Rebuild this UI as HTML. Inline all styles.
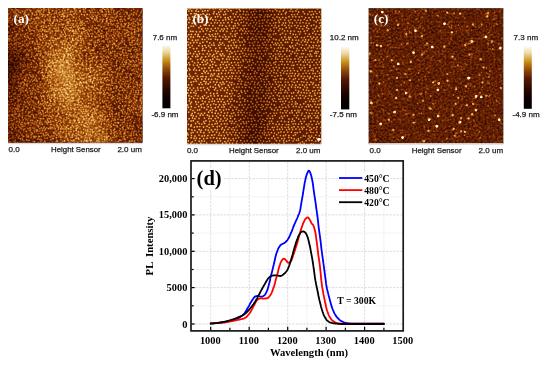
<!DOCTYPE html>
<html><head><meta charset="utf-8"><title>Figure</title>
<style>
html,body{margin:0;padding:0;background:#fff;}
svg{display:block;}
.sans{font-family:"Liberation Sans",sans-serif;font-size:8px;fill:#1a1a1a;stroke:#1a1a1a;stroke-width:0.25px;}
.serif{font-family:"Liberation Serif",serif;font-weight:bold;fill:#000;}
</style></head><body>
<svg width="550" height="365" viewBox="0 0 550 365">
<defs>
<filter id="fa" filterUnits="userSpaceOnUse" x="8" y="8" width="134.5" height="134.8" color-interpolation-filters="sRGB">
<feTurbulence type="fractalNoise" baseFrequency="0.5" numOctaves="1" seed="3"/>
<feColorMatrix type="matrix" values="1 0 0 0 0  1 0 0 0 0  1 0 0 0 0  0 0 0 0 1" result="g"/>
<feComposite in="SourceGraphic" in2="g" operator="arithmetic" k1="0" k2="1" k3="0.5" k4="-0.250" result="d"/>
<feTurbulence type="fractalNoise" baseFrequency="0.045" numOctaves="2" seed="4"/>
<feColorMatrix type="matrix" values="1 0 0 0 0  1 0 0 0 0  1 0 0 0 0  0 0 0 0 1" result="p"/>
<feComposite in="d" in2="p" operator="arithmetic" k1="0" k2="1" k3="0.15" k4="-0.075" result="d"/>
<feGaussianBlur in="d" stdDeviation="0.42"/>
<feComponentTransfer><feFuncR type="table" tableValues="0.000 0.110 0.227 0.345 0.471 0.588 0.698 0.800 0.894 0.957 1.000"/><feFuncG type="table" tableValues="0.000 0.020 0.055 0.106 0.169 0.267 0.384 0.529 0.686 0.847 1.000"/><feFuncB type="table" tableValues="0.000 0.000 0.004 0.012 0.020 0.043 0.094 0.188 0.361 0.627 1.000"/></feComponentTransfer></filter>
<filter id="fb" filterUnits="userSpaceOnUse" x="187.1" y="8.7" width="134" height="135.1" color-interpolation-filters="sRGB">
<feTurbulence type="fractalNoise" baseFrequency="0.6" numOctaves="1" seed="7"/>
<feColorMatrix type="matrix" values="1 0 0 0 0  1 0 0 0 0  1 0 0 0 0  0 0 0 0 1" result="g"/>
<feComposite in="SourceGraphic" in2="g" operator="arithmetic" k1="0" k2="1" k3="0.16" k4="-0.080" result="d"/>
<feTurbulence type="fractalNoise" baseFrequency="0.03" numOctaves="2" seed="9"/>
<feColorMatrix type="matrix" values="1 0 0 0 0  1 0 0 0 0  1 0 0 0 0  0 0 0 0 1" result="p"/>
<feComposite in="d" in2="p" operator="arithmetic" k1="0" k2="1" k3="0.08" k4="-0.040" result="d"/>
<feGaussianBlur in="d" stdDeviation="0.42"/>
<feComponentTransfer><feFuncR type="table" tableValues="0.000 0.110 0.227 0.345 0.471 0.588 0.698 0.800 0.894 0.957 1.000"/><feFuncG type="table" tableValues="0.000 0.020 0.055 0.106 0.169 0.267 0.384 0.529 0.686 0.847 1.000"/><feFuncB type="table" tableValues="0.000 0.000 0.004 0.012 0.020 0.043 0.094 0.188 0.361 0.627 1.000"/></feComponentTransfer></filter>
<filter id="fc" filterUnits="userSpaceOnUse" x="368.7" y="8.3" width="134.5" height="135" color-interpolation-filters="sRGB">
<feTurbulence type="fractalNoise" baseFrequency="0.47" numOctaves="2" seed="11"/>
<feColorMatrix type="matrix" values="1 0 0 0 0  1 0 0 0 0  1 0 0 0 0  0 0 0 0 1" result="g"/>
<feComposite in="SourceGraphic" in2="g" operator="arithmetic" k1="0" k2="1" k3="0.5" k4="-0.250" result="d"/>
<feTurbulence type="fractalNoise" baseFrequency="0.08" numOctaves="2" seed="9"/>
<feColorMatrix type="matrix" values="1 0 0 0 0  1 0 0 0 0  1 0 0 0 0  0 0 0 0 1" result="p"/>
<feComposite in="d" in2="p" operator="arithmetic" k1="0" k2="1" k3="0.08" k4="-0.040" result="d"/>
<feGaussianBlur in="d" stdDeviation="0.4"/>
<feComponentTransfer><feFuncR type="table" tableValues="0.000 0.110 0.227 0.345 0.471 0.588 0.698 0.800 0.894 0.957 1.000"/><feFuncG type="table" tableValues="0.000 0.020 0.055 0.106 0.169 0.267 0.384 0.529 0.686 0.847 1.000"/><feFuncB type="table" tableValues="0.000 0.000 0.004 0.012 0.020 0.043 0.094 0.188 0.361 0.627 1.000"/></feComponentTransfer></filter>
<linearGradient id="cb" x1="0" y1="1" x2="0" y2="0">
<stop offset="0" stop-color="#000"/><stop offset="0.14" stop-color="#0a0000"/><stop offset="0.29" stop-color="#230800"/><stop offset="0.48" stop-color="#551905"/><stop offset="0.63" stop-color="#96500a"/><stop offset="0.76" stop-color="#cd961e"/><stop offset="0.88" stop-color="#ebd7a0"/><stop offset="1" stop-color="#fff"/>
</linearGradient>
<linearGradient id="ga" x1="0" y1="0" x2="1" y2="0">
<stop offset="0" stop-color="#000" stop-opacity="0.22"/><stop offset="0.15" stop-color="#000" stop-opacity="0.1"/><stop offset="0.3" stop-color="#000" stop-opacity="0"/><stop offset="0.65" stop-color="#000" stop-opacity="0"/><stop offset="0.8" stop-color="#000" stop-opacity="0.05"/><stop offset="1" stop-color="#000" stop-opacity="0.07"/>
</linearGradient>
<radialGradient id="ga2" cx="0.5" cy="0.5" r="0.5"><stop offset="0" stop-color="#fff" stop-opacity="0.27"/><stop offset="0.5" stop-color="#fff" stop-opacity="0.15"/><stop offset="1" stop-color="#fff" stop-opacity="0"/></radialGradient>
<radialGradient id="ga3" cx="0.5" cy="0.5" r="0.5"><stop offset="0" stop-color="#000" stop-opacity="0.4"/><stop offset="0.5" stop-color="#000" stop-opacity="0.2"/><stop offset="1" stop-color="#000" stop-opacity="0"/></radialGradient>
<linearGradient id="gb0" x1="0" y1="0" x2="1" y2="0.05">
<stop offset="0" stop-color="#5f5f5f"/><stop offset="0.33" stop-color="#5c5c5c"/><stop offset="0.43" stop-color="#535353"/><stop offset="0.5" stop-color="#4b4b4b"/><stop offset="0.58" stop-color="#494949"/><stop offset="0.68" stop-color="#535353"/><stop offset="1" stop-color="#595959"/>
</linearGradient>
<linearGradient id="gb" x1="0" y1="0" x2="1" y2="0.05">
<stop offset="0" stop-color="#000" stop-opacity="0"/><stop offset="0.33" stop-color="#000" stop-opacity="0.03"/><stop offset="0.43" stop-color="#000" stop-opacity="0.13"/><stop offset="0.5" stop-color="#000" stop-opacity="0.24"/><stop offset="0.58" stop-color="#000" stop-opacity="0.25"/><stop offset="0.68" stop-color="#000" stop-opacity="0.1"/><stop offset="1" stop-color="#000" stop-opacity="0.06"/>
</linearGradient>
<clipPath id="ca"><rect x="8" y="8" width="134.5" height="134.8"/></clipPath>
<clipPath id="cc"><rect x="368.7" y="8.3" width="134.5" height="135"/></clipPath>
</defs>
<rect width="550" height="365" fill="#fff"/>
<!-- AFM images -->
<g filter="url(#fa)"><g clip-path="url(#ca)"><rect x="8" y="8" width="134.5" height="134.8" fill="#5e5e5e"/>
<path d="M8.5 7.6h0M10.4 8.3h0M12.3 7.2h0M15.4 8.5h0M20.9 7.5h0M23.7 7.2h0M28.8 7.8h0M30.4 7.2h0M32.9 8.0h0M35.0 7.5h0M37.6 7.1h0M40.6 8.3h0M43.9 8.6h0M48.4 8.4h0M50.4 8.6h0M52.6 8.2h0M56.1 8.0h0M57.2 7.5h0M60.3 7.4h0M63.4 8.3h0M65.4 8.0h0M68.0 7.8h0M69.7 7.2h0M73.9 8.2h0M74.9 8.0h0M78.5 8.1h0M80.0 8.0h0M83.1 7.9h0M85.6 8.8h0M91.1 8.7h0M93.6 8.0h0M95.4 7.2h0M98.1 7.5h0M100.5 7.7h0M103.1 8.2h0M105.4 7.2h0M107.4 8.2h0M111.0 8.5h0M112.6 8.6h0M114.7 7.1h0M120.0 7.3h0M122.7 7.2h0M125.5 7.4h0M128.4 7.9h0M130.5 7.1h0M132.9 7.4h0M138.0 7.5h0M141.1 7.1h0M8.6 10.5h0M11.8 9.7h0M14.8 10.2h0M17.0 10.0h0M18.9 10.4h0M25.1 10.8h0M27.4 9.8h0M29.7 10.0h0M30.9 10.8h0M37.6 10.3h0M39.9 11.0h0M41.8 9.9h0M43.7 10.5h0M46.2 9.5h0M48.9 10.2h0M52.4 10.9h0M56.4 11.0h0M59.0 9.6h0M62.4 10.9h0M64.9 10.5h0M67.6 9.7h0M68.5 9.6h0M71.2 10.6h0M74.9 9.9h0M76.4 10.8h0M80.1 10.9h0M83.5 9.3h0M89.8 10.8h0M92.0 10.7h0M94.4 9.7h0M100.0 10.3h0M101.7 9.8h0M104.8 9.3h0M106.0 9.5h0M108.4 9.7h0M111.6 9.5h0M113.8 10.6h0M119.0 11.0h0M121.4 9.7h0M123.5 10.4h0M131.4 10.3h0M133.9 9.4h0M137.6 11.0h0M142.0 11.0h0M144.6 10.5h0M5.6 12.0h0M7.2 11.9h0M10.4 12.6h0M13.8 12.1h0M15.2 12.0h0M18.7 12.0h0M20.6 12.5h0M22.5 11.5h0M24.7 12.4h0M32.6 12.9h0M36.2 11.7h0M38.5 11.6h0M39.9 12.8h0M43.6 12.0h0M48.8 12.0h0M49.9 13.1h0M56.2 12.9h0M58.6 12.8h0M59.9 12.2h0M63.4 12.6h0M64.7 13.2h0M68.1 12.4h0M70.4 12.1h0M72.6 11.5h0M75.4 12.5h0M79.8 11.7h0M83.6 12.1h0M85.7 11.9h0M90.5 12.6h0M93.3 12.7h0M95.5 12.3h0M97.8 12.4h0M101.3 11.9h0M102.2 11.6h0M106.2 11.7h0M108.7 12.0h0M111.1 12.1h0M113.4 12.5h0M116.2 13.2h0M117.4 11.9h0M120.6 12.8h0M125.9 12.1h0M127.4 12.7h0M133.6 12.6h0M136.2 13.2h0M141.1 12.6h0M142.9 13.1h0M6.5 15.0h0M8.6 14.2h0M15.1 13.8h0M16.6 13.8h0M18.8 14.9h0M24.1 13.6h0M26.9 15.1h0M28.9 14.6h0M31.9 14.0h0M34.8 15.1h0M36.8 14.5h0M39.7 14.6h0M41.4 13.8h0M43.6 14.9h0M47.6 15.0h0M48.6 14.5h0M51.4 14.5h0M54.3 13.6h0M56.7 14.1h0M59.8 14.8h0M62.0 14.3h0M63.4 14.1h0M67.4 15.1h0M70.1 14.4h0M71.6 14.9h0M73.9 13.9h0M76.8 14.2h0M81.6 14.3h0M84.4 14.9h0M87.2 14.5h0M89.5 14.8h0M91.6 14.7h0M95.0 15.0h0M97.2 15.1h0M99.0 14.1h0M102.4 14.6h0M104.8 14.5h0M105.9 14.5h0M109.1 14.2h0M110.9 14.5h0M114.6 14.3h0M116.9 14.0h0M119.9 14.1h0M124.3 14.3h0M127.2 13.9h0M129.6 15.1h0M131.9 14.0h0M133.7 15.0h0M136.4 14.0h0M139.6 15.1h0M144.5 14.2h0M6.0 17.2h0M8.2 16.1h0M10.4 17.4h0M13.2 16.2h0M14.8 16.0h0M17.7 17.1h0M20.9 17.1h0M22.3 16.5h0M24.8 16.1h0M31.2 16.1h0M36.1 17.5h0M37.7 17.3h0M42.3 16.5h0M45.3 16.1h0M48.6 16.6h0M50.0 17.0h0M53.2 17.4h0M54.7 17.2h0M57.7 16.4h0M61.3 16.5h0M63.5 16.0h0M64.6 16.0h0M67.2 16.4h0M73.6 17.4h0M79.7 16.3h0M90.9 17.0h0M93.3 16.5h0M96.3 16.9h0M97.2 17.4h0M100.2 16.8h0M103.0 15.9h0M105.3 16.1h0M107.9 17.0h0M110.9 17.1h0M112.6 17.5h0M116.3 17.3h0M117.2 15.9h0M120.4 16.4h0M122.2 16.7h0M124.8 16.5h0M128.7 15.8h0M129.8 17.2h0M138.4 16.3h0M143.6 17.3h0M6.6 18.4h0M8.9 18.5h0M12.6 19.0h0M16.7 19.7h0M19.9 19.2h0M22.5 19.4h0M23.6 18.6h0M26.0 18.5h0M28.4 19.4h0M31.4 18.5h0M33.9 19.3h0M36.8 18.2h0M38.9 18.5h0M44.2 19.6h0M47.6 19.4h0M50.0 19.4h0M54.4 19.7h0M57.1 19.3h0M60.0 19.1h0M61.7 19.7h0M63.7 18.2h0M66.9 19.6h0M69.1 19.2h0M76.3 18.1h0M79.5 18.9h0M87.0 18.2h0M88.4 18.6h0M92.1 18.4h0M94.4 19.5h0M96.6 19.1h0M100.1 19.4h0M102.3 19.7h0M103.7 19.3h0M106.8 18.8h0M109.9 19.4h0M110.9 19.5h0M113.7 18.5h0M115.9 18.1h0M119.9 19.3h0M121.8 19.0h0M124.3 18.9h0M127.6 18.7h0M128.9 18.5h0M131.9 18.9h0M133.6 19.1h0M137.2 18.9h0M139.1 19.6h0M142.1 19.5h0M144.9 18.6h0M6.0 20.8h0M8.0 20.7h0M9.8 20.7h0M12.1 20.4h0M16.1 21.2h0M18.9 20.6h0M20.9 21.3h0M23.5 21.0h0M25.5 21.8h0M27.3 20.3h0M30.0 20.1h0M33.0 21.8h0M35.9 21.6h0M41.4 21.1h0M42.7 21.8h0M44.8 21.1h0M48.3 20.3h0M50.1 21.0h0M53.6 21.5h0M54.8 20.8h0M57.6 21.0h0M59.8 21.6h0M66.2 20.5h0M67.8 21.7h0M70.1 21.0h0M73.1 20.5h0M75.2 21.0h0M80.8 21.8h0M82.6 21.1h0M86.0 21.6h0M87.6 21.4h0M89.8 20.4h0M93.2 21.8h0M95.7 20.4h0M97.6 21.3h0M100.0 20.8h0M102.7 21.2h0M106.2 21.3h0M107.2 20.7h0M110.8 21.6h0M112.7 21.0h0M114.8 20.3h0M117.3 21.1h0M120.6 21.3h0M122.5 21.1h0M125.4 20.1h0M130.7 20.2h0M133.3 21.9h0M135.7 21.0h0M139.9 20.5h0M143.3 20.2h0M8.5 22.8h0M10.9 22.3h0M17.5 23.4h0M19.6 22.7h0M21.4 24.0h0M24.8 23.4h0M26.9 23.8h0M29.6 23.4h0M31.9 23.2h0M35.0 23.4h0M35.9 23.2h0M38.7 23.0h0M41.3 22.7h0M44.2 23.0h0M49.5 23.2h0M52.4 23.6h0M53.4 22.8h0M56.1 23.9h0M61.2 23.8h0M64.0 23.9h0M67.4 22.9h0M68.6 23.3h0M72.1 23.7h0M73.4 24.0h0M77.0 22.9h0M79.9 23.1h0M81.9 23.0h0M84.1 23.3h0M88.4 23.5h0M101.5 22.7h0M105.0 23.4h0M107.3 22.7h0M108.8 23.3h0M111.1 23.7h0M113.9 23.8h0M117.0 24.0h0M118.5 23.0h0M121.4 23.7h0M124.6 23.4h0M126.0 23.5h0M128.7 23.4h0M131.5 23.5h0M133.4 23.9h0M137.4 22.6h0M138.5 22.9h0M142.0 23.7h0M144.2 23.1h0M5.9 24.8h0M8.1 25.4h0M11.1 24.7h0M12.3 24.5h0M18.5 25.6h0M20.1 24.7h0M23.6 26.1h0M28.2 25.7h0M30.6 25.1h0M36.4 26.1h0M37.7 24.9h0M41.3 26.1h0M43.2 25.3h0M46.0 26.1h0M48.4 25.7h0M50.6 24.9h0M52.3 25.6h0M55.6 25.6h0M58.9 24.9h0M62.7 24.9h0M65.7 26.2h0M67.7 25.4h0M70.5 25.2h0M72.8 25.1h0M76.1 25.1h0M78.1 25.9h0M80.7 25.7h0M82.4 24.9h0M85.1 25.3h0M92.5 25.9h0M95.0 25.2h0M98.1 25.4h0M100.0 25.5h0M104.7 25.8h0M108.3 25.5h0M112.2 24.9h0M115.1 25.6h0M117.7 25.9h0M120.9 25.0h0M122.3 25.9h0M125.4 24.9h0M128.2 25.5h0M130.1 24.5h0M132.7 25.9h0M135.7 24.6h0M138.2 24.9h0M140.5 24.6h0M143.4 25.9h0M7.5 26.8h0M8.8 26.6h0M14.7 27.3h0M17.0 27.1h0M19.6 28.2h0M22.4 28.3h0M24.1 27.1h0M28.6 27.6h0M30.9 27.0h0M34.3 28.2h0M36.0 27.8h0M41.6 28.3h0M43.7 27.5h0M46.2 27.2h0M50.1 28.0h0M54.2 28.1h0M56.1 28.2h0M58.4 27.5h0M62.4 27.3h0M64.8 28.1h0M66.6 28.2h0M70.0 27.6h0M71.7 27.4h0M73.9 26.9h0M77.4 27.1h0M79.8 28.0h0M82.6 28.0h0M83.6 27.6h0M89.0 27.2h0M92.0 27.6h0M94.5 28.1h0M96.8 28.0h0M101.4 27.0h0M103.6 26.8h0M106.8 28.1h0M109.9 27.7h0M117.3 27.1h0M119.3 27.6h0M121.0 26.9h0M123.8 26.7h0M127.2 27.1h0M128.8 27.4h0M131.4 28.2h0M134.8 26.7h0M137.5 28.1h0M141.5 27.9h0M5.9 30.3h0M10.8 30.3h0M13.9 29.1h0M19.8 29.2h0M22.2 30.5h0M26.3 30.1h0M28.8 28.8h0M29.7 29.2h0M32.1 30.1h0M37.2 29.7h0M40.1 29.6h0M42.8 29.9h0M44.9 30.0h0M48.8 29.5h0M49.6 28.8h0M55.8 30.5h0M58.4 29.4h0M63.4 30.2h0M66.1 29.8h0M68.0 29.6h0M70.6 30.3h0M72.9 30.2h0M75.5 29.8h0M78.2 29.2h0M80.7 28.8h0M83.7 29.2h0M85.9 30.4h0M88.2 29.4h0M90.8 29.4h0M92.1 30.1h0M95.2 28.8h0M98.2 30.2h0M100.0 28.9h0M105.8 29.0h0M108.8 29.8h0M111.3 30.0h0M113.5 29.7h0M115.3 29.3h0M118.0 29.6h0M119.7 29.1h0M123.2 29.9h0M125.0 29.5h0M127.4 30.5h0M131.2 28.8h0M132.7 29.6h0M134.7 29.4h0M138.7 29.7h0M140.7 29.8h0M143.1 29.2h0M8.5 31.8h0M12.4 32.3h0M15.1 31.4h0M16.3 31.1h0M19.3 31.1h0M22.6 31.0h0M29.9 31.0h0M33.9 30.9h0M38.7 31.4h0M41.3 31.3h0M44.9 31.3h0M46.7 31.5h0M48.4 31.2h0M52.2 31.3h0M55.0 31.1h0M57.4 31.2h0M58.6 31.0h0M61.5 32.0h0M64.8 32.1h0M69.7 31.1h0M72.3 31.3h0M73.8 31.7h0M75.9 31.4h0M79.0 31.7h0M82.0 32.0h0M84.0 31.7h0M87.3 32.5h0M89.4 31.1h0M94.9 31.9h0M97.5 32.3h0M99.2 31.5h0M101.7 30.9h0M106.9 32.5h0M108.6 31.7h0M111.1 31.1h0M113.8 32.1h0M117.4 31.5h0M119.3 32.5h0M122.4 32.1h0M126.8 32.7h0M128.7 31.6h0M131.8 32.5h0M134.8 32.0h0M136.5 31.1h0M138.4 31.4h0M142.6 31.3h0M144.9 31.5h0M5.2 33.2h0M8.4 33.1h0M16.2 33.3h0M17.7 34.0h0M20.6 34.7h0M22.9 34.6h0M25.5 34.0h0M27.9 33.2h0M31.0 33.3h0M32.4 33.7h0M38.2 34.3h0M39.8 34.2h0M42.7 34.1h0M45.8 34.9h0M50.5 33.1h0M55.6 33.3h0M60.9 34.1h0M63.2 34.7h0M65.5 33.8h0M73.6 33.1h0M75.2 33.6h0M77.6 33.6h0M81.3 33.6h0M82.2 33.9h0M85.0 33.7h0M88.1 34.1h0M90.8 33.7h0M92.8 34.0h0M96.2 33.8h0M98.6 34.8h0M100.9 33.5h0M102.2 34.0h0M105.9 34.7h0M108.1 34.0h0M113.1 34.4h0M115.7 33.2h0M118.6 33.9h0M120.8 33.6h0M125.2 33.4h0M128.6 34.8h0M131.3 33.4h0M132.1 33.5h0M134.7 34.3h0M138.9 34.9h0M143.9 33.7h0M7.5 36.4h0M9.3 36.0h0M11.8 35.6h0M15.1 36.3h0M16.4 35.5h0M21.1 35.9h0M24.7 36.4h0M27.3 36.0h0M28.4 36.5h0M34.1 35.6h0M37.4 35.3h0M40.1 36.1h0M42.5 36.6h0M44.4 35.6h0M46.9 36.7h0M51.3 36.8h0M54.9 35.4h0M60.0 36.1h0M61.1 36.2h0M64.9 36.6h0M66.1 35.5h0M69.4 35.6h0M71.2 36.1h0M73.5 35.4h0M79.0 35.8h0M80.9 36.1h0M84.7 35.8h0M86.4 36.6h0M89.2 36.0h0M91.8 36.2h0M94.8 37.0h0M97.0 36.5h0M99.4 36.1h0M101.6 36.2h0M103.8 35.6h0M106.3 36.7h0M109.7 35.8h0M111.5 35.9h0M114.5 36.0h0M117.4 35.8h0M119.1 36.5h0M121.2 35.9h0M125.1 36.3h0M127.4 35.6h0M131.5 36.5h0M134.1 36.7h0M138.6 36.2h0M142.6 36.6h0M5.6 38.6h0M8.9 39.1h0M9.9 39.2h0M13.8 37.6h0M14.8 37.7h0M18.5 38.7h0M19.8 38.1h0M22.5 38.3h0M26.3 37.6h0M28.1 37.7h0M29.8 39.0h0M32.2 38.3h0M36.2 38.7h0M38.7 37.4h0M39.7 38.9h0M43.5 38.9h0M44.8 38.1h0M51.4 38.4h0M53.3 37.7h0M55.2 38.8h0M57.8 38.4h0M59.7 37.8h0M65.4 38.5h0M67.2 38.9h0M69.6 38.2h0M72.8 39.0h0M75.8 39.0h0M78.2 37.5h0M80.8 38.4h0M82.7 38.9h0M85.8 38.2h0M95.5 37.5h0M101.4 38.2h0M103.2 37.6h0M105.8 39.1h0M108.1 38.1h0M110.5 38.3h0M112.9 37.5h0M116.2 38.1h0M122.3 38.6h0M128.7 37.8h0M130.7 38.4h0M132.8 37.5h0M135.1 38.5h0M137.6 39.2h0M141.3 38.3h0M142.6 37.7h0M6.7 40.6h0M9.3 40.8h0M12.0 40.3h0M14.4 40.4h0M16.4 39.7h0M22.5 41.1h0M24.9 41.0h0M26.4 39.8h0M30.1 41.1h0M32.2 41.2h0M33.6 41.3h0M37.2 40.7h0M40.9 40.1h0M44.6 40.6h0M49.4 40.7h0M52.5 40.4h0M54.3 40.6h0M56.2 39.7h0M63.9 41.0h0M66.1 41.1h0M72.1 40.6h0M73.6 40.6h0M77.4 40.1h0M78.4 40.7h0M81.7 40.4h0M83.7 41.0h0M89.8 40.3h0M91.5 40.2h0M95.1 41.0h0M97.5 40.2h0M98.9 40.0h0M102.1 41.3h0M103.5 40.8h0M107.3 39.6h0M109.7 40.8h0M112.5 41.0h0M114.0 39.6h0M116.7 41.1h0M122.0 41.2h0M124.1 40.5h0M129.4 39.9h0M132.0 40.6h0M134.1 40.6h0M137.2 40.7h0M138.6 39.8h0M142.0 40.7h0M143.8 40.6h0M6.1 41.9h0M7.4 43.0h0M11.3 43.4h0M16.2 43.1h0M18.5 42.3h0M20.3 43.5h0M24.8 43.1h0M28.0 43.3h0M29.7 43.2h0M32.3 43.0h0M34.8 42.8h0M37.2 41.9h0M42.7 42.7h0M46.1 43.3h0M48.2 43.3h0M50.7 43.5h0M53.4 42.3h0M56.1 42.3h0M57.1 42.6h0M61.0 42.0h0M62.4 42.2h0M64.9 42.7h0M68.6 42.9h0M71.2 42.1h0M76.0 43.0h0M77.5 42.9h0M81.0 42.5h0M88.0 43.0h0M89.6 43.5h0M93.1 42.1h0M95.0 42.8h0M97.6 42.4h0M99.7 41.8h0M103.9 41.8h0M107.6 42.2h0M109.9 42.1h0M113.2 43.0h0M114.6 43.5h0M120.5 43.2h0M122.1 42.0h0M129.8 42.7h0M132.1 42.2h0M135.6 43.3h0M138.1 42.2h0M140.5 42.4h0M142.5 41.8h0M8.7 44.6h0M12.2 45.0h0M14.9 44.0h0M16.1 44.6h0M18.8 44.0h0M22.1 45.6h0M23.4 44.9h0M26.8 44.9h0M28.5 44.8h0M34.9 43.9h0M37.4 44.0h0M39.2 44.2h0M41.9 45.4h0M45.1 45.1h0M46.0 44.5h0M49.3 44.6h0M51.9 45.4h0M55.0 44.5h0M56.9 44.6h0M58.5 45.1h0M62.3 44.0h0M64.4 44.0h0M67.5 45.0h0M70.0 44.7h0M72.4 45.1h0M74.4 45.3h0M76.1 44.2h0M79.6 45.2h0M81.5 45.6h0M83.9 43.9h0M89.5 44.3h0M91.2 44.6h0M94.7 44.7h0M96.7 45.1h0M99.4 44.9h0M100.9 43.9h0M106.8 45.0h0M108.4 45.5h0M112.6 44.5h0M114.6 43.9h0M116.6 45.7h0M119.1 44.2h0M124.5 44.2h0M126.2 45.6h0M130.1 44.7h0M131.9 45.2h0M134.3 44.4h0M137.5 44.0h0M139.7 44.2h0M142.4 44.8h0M144.3 44.2h0M5.9 46.6h0M8.4 47.6h0M10.1 46.7h0M13.7 47.3h0M14.6 47.3h0M18.7 46.4h0M21.0 46.5h0M24.8 46.3h0M27.4 46.2h0M30.8 47.5h0M38.4 46.4h0M39.8 47.7h0M43.8 46.8h0M47.9 46.7h0M50.9 47.4h0M52.6 46.3h0M58.8 46.2h0M61.4 47.1h0M62.4 47.4h0M64.8 46.4h0M67.5 47.2h0M70.9 47.5h0M73.6 46.3h0M75.5 47.3h0M82.4 47.7h0M85.7 46.8h0M88.8 47.7h0M93.5 47.7h0M95.4 46.4h0M103.4 46.8h0M105.1 47.8h0M107.6 46.8h0M112.5 47.4h0M115.8 46.1h0M118.2 46.6h0M121.2 47.7h0M122.9 47.1h0M125.2 47.7h0M128.3 47.4h0M132.9 47.3h0M135.4 47.4h0M138.9 46.1h0M141.0 47.1h0M142.7 46.8h0M9.8 49.2h0M12.3 48.5h0M14.7 49.3h0M16.3 49.5h0M19.1 49.9h0M21.1 48.5h0M25.1 49.9h0M27.0 49.1h0M29.4 50.0h0M31.6 49.5h0M34.7 48.5h0M36.3 48.7h0M38.4 48.5h0M42.3 48.4h0M44.2 49.6h0M51.0 48.3h0M53.4 49.0h0M56.1 49.8h0M60.1 49.3h0M61.1 49.3h0M64.9 48.5h0M66.6 49.2h0M69.6 48.8h0M72.5 49.7h0M78.5 48.4h0M80.9 48.7h0M85.0 49.9h0M86.7 48.4h0M88.8 49.4h0M91.8 49.8h0M94.0 49.5h0M99.6 48.7h0M102.2 48.6h0M103.6 48.6h0M106.3 49.7h0M108.6 49.4h0M112.0 48.4h0M116.8 48.6h0M119.9 48.7h0M122.4 50.0h0M123.6 49.6h0M128.8 48.6h0M131.1 49.4h0M134.5 49.7h0M136.3 49.7h0M139.7 49.3h0M145.0 49.9h0M4.6 50.4h0M8.5 51.7h0M11.2 50.5h0M13.3 51.1h0M14.9 52.1h0M17.7 51.0h0M20.2 51.5h0M23.8 51.8h0M25.2 50.5h0M28.6 50.8h0M30.2 50.9h0M36.3 50.7h0M38.5 51.4h0M40.4 51.5h0M45.7 51.9h0M48.8 51.3h0M51.0 52.1h0M53.3 50.8h0M55.6 50.5h0M58.5 50.9h0M60.1 50.6h0M62.7 50.9h0M66.3 51.4h0M67.6 50.9h0M70.2 50.7h0M73.3 52.1h0M75.5 50.7h0M77.2 51.4h0M80.2 51.3h0M82.8 50.6h0M85.9 50.6h0M90.2 51.2h0M93.0 50.5h0M97.4 51.9h0M101.0 51.5h0M103.5 50.9h0M104.7 51.1h0M108.3 51.6h0M110.4 52.0h0M112.7 51.5h0M115.0 51.3h0M120.3 51.6h0M122.5 52.1h0M125.5 50.5h0M128.3 50.8h0M130.1 50.9h0M136.0 51.6h0M137.6 50.5h0M140.1 50.8h0M5.9 53.5h0M11.0 52.9h0M13.5 54.0h0M17.0 53.5h0M18.7 53.3h0M27.0 54.3h0M28.4 54.2h0M31.6 52.9h0M36.8 54.1h0M38.7 53.6h0M41.3 53.1h0M45.1 52.8h0M46.5 53.9h0M48.7 54.1h0M50.9 53.0h0M53.9 52.9h0M56.9 53.3h0M59.5 53.2h0M62.4 53.9h0M63.9 54.1h0M67.4 53.7h0M68.9 54.1h0M71.1 53.6h0M79.7 52.9h0M80.9 53.2h0M87.0 54.0h0M90.0 53.3h0M91.9 53.4h0M94.1 53.3h0M96.0 53.9h0M100.0 53.6h0M101.1 54.1h0M106.1 53.0h0M109.0 53.8h0M111.0 53.2h0M114.8 54.1h0M117.5 53.6h0M119.3 53.8h0M121.1 54.3h0M123.4 53.1h0M125.9 53.1h0M128.6 53.9h0M131.3 54.0h0M137.2 53.6h0M139.1 54.1h0M141.0 53.5h0M144.6 53.0h0M5.7 56.5h0M8.8 56.5h0M10.6 55.4h0M14.9 55.8h0M18.1 55.8h0M21.3 55.7h0M25.9 55.4h0M28.1 55.4h0M31.4 54.8h0M33.9 56.3h0M35.8 55.6h0M37.4 55.1h0M40.1 55.1h0M42.6 56.2h0M47.9 55.1h0M50.5 54.8h0M53.4 55.3h0M55.0 54.8h0M57.7 55.2h0M63.4 56.4h0M64.6 55.6h0M68.1 55.5h0M70.7 55.5h0M73.0 54.7h0M76.3 55.9h0M78.6 54.8h0M79.8 56.2h0M82.4 55.2h0M85.8 55.7h0M91.1 55.4h0M96.3 56.4h0M97.5 56.5h0M100.9 56.4h0M103.5 55.8h0M105.0 56.4h0M107.3 56.1h0M111.0 55.9h0M114.9 55.7h0M117.4 55.7h0M120.9 55.0h0M123.8 55.4h0M124.9 55.5h0M127.3 55.4h0M132.7 56.2h0M134.8 56.2h0M137.7 55.0h0M141.3 55.1h0M142.7 56.5h0M11.7 58.6h0M16.8 58.5h0M19.6 57.3h0M20.9 58.7h0M23.8 58.5h0M26.5 57.4h0M28.8 57.8h0M31.3 56.9h0M34.8 58.2h0M36.1 58.6h0M39.0 58.6h0M42.4 57.9h0M43.6 57.1h0M50.1 57.2h0M54.9 57.1h0M58.8 56.9h0M63.5 57.7h0M67.1 57.5h0M71.5 57.7h0M74.2 58.6h0M79.9 57.8h0M81.0 58.7h0M86.3 58.2h0M89.7 58.6h0M92.4 58.0h0M93.7 57.1h0M96.4 57.5h0M101.9 57.3h0M104.3 58.3h0M106.6 57.5h0M108.7 57.1h0M112.1 58.6h0M115.1 57.7h0M118.8 57.6h0M121.4 57.8h0M123.5 58.5h0M127.2 57.5h0M131.3 57.4h0M134.6 57.2h0M137.0 57.2h0M138.5 58.1h0M141.9 58.6h0M144.4 57.9h0M5.4 59.2h0M8.8 60.0h0M11.2 60.1h0M15.5 59.8h0M21.1 60.0h0M23.4 59.4h0M25.0 60.0h0M28.1 59.4h0M30.0 60.0h0M33.3 60.6h0M40.0 59.7h0M42.3 60.6h0M45.7 59.1h0M49.7 60.2h0M52.6 60.8h0M55.2 59.8h0M57.3 60.8h0M60.9 59.8h0M63.2 59.5h0M66.3 60.8h0M67.6 60.6h0M70.6 60.3h0M72.9 59.2h0M78.4 60.2h0M80.1 60.7h0M83.3 60.7h0M86.1 60.4h0M88.8 59.1h0M90.5 60.7h0M92.3 60.4h0M94.8 60.3h0M97.9 60.8h0M101.4 60.3h0M102.8 59.3h0M107.4 60.1h0M110.5 60.7h0M113.8 59.6h0M117.9 60.3h0M120.4 59.7h0M123.9 59.4h0M126.2 60.5h0M128.2 59.6h0M129.7 60.8h0M133.3 60.7h0M136.1 60.6h0M138.7 59.5h0M140.9 60.5h0M142.2 59.8h0M6.0 61.5h0M9.0 62.7h0M11.9 61.7h0M13.6 62.6h0M17.1 62.5h0M19.5 62.5h0M24.3 62.7h0M31.4 63.0h0M34.2 61.8h0M36.2 63.0h0M40.0 63.0h0M42.3 62.8h0M46.5 61.8h0M48.7 61.3h0M50.9 62.4h0M54.1 62.7h0M55.9 62.3h0M59.1 61.4h0M60.9 61.9h0M63.7 62.3h0M66.7 62.2h0M68.4 62.1h0M72.0 61.4h0M74.3 62.6h0M78.6 62.9h0M82.5 62.9h0M86.9 61.8h0M89.9 61.6h0M92.4 61.8h0M96.4 62.3h0M102.3 62.0h0M104.7 62.2h0M106.2 62.4h0M108.4 61.8h0M111.1 62.8h0M116.7 61.5h0M119.3 61.9h0M122.2 62.2h0M124.6 62.0h0M126.1 62.4h0M130.1 61.7h0M131.6 61.5h0M134.5 62.4h0M136.3 61.5h0M139.6 62.8h0M141.4 62.7h0M144.7 61.3h0M5.3 64.6h0M20.6 63.5h0M22.9 64.6h0M25.2 64.9h0M27.8 64.0h0M31.1 64.3h0M37.4 64.8h0M40.0 63.5h0M42.4 65.2h0M45.2 64.8h0M48.3 64.8h0M49.7 63.7h0M53.2 63.4h0M60.8 65.1h0M63.0 65.0h0M68.3 63.8h0M69.9 64.5h0M72.3 65.1h0M75.3 64.5h0M77.3 63.9h0M81.1 64.4h0M82.4 64.9h0M86.4 63.9h0M90.4 64.5h0M95.3 65.1h0M100.4 64.1h0M103.9 64.4h0M105.5 64.8h0M107.3 64.6h0M110.9 64.3h0M116.3 63.5h0M120.9 64.2h0M123.7 64.5h0M125.8 64.1h0M128.7 63.9h0M130.5 64.7h0M133.7 64.9h0M136.1 65.0h0M137.5 65.2h0M140.3 63.9h0M143.3 64.1h0M7.6 66.8h0M9.4 66.1h0M12.1 67.1h0M15.0 66.8h0M17.4 66.4h0M20.0 67.3h0M21.0 66.0h0M23.6 66.2h0M27.6 65.7h0M29.3 67.0h0M31.5 66.8h0M33.9 67.2h0M35.9 67.1h0M40.1 65.7h0M41.8 66.1h0M44.9 66.3h0M47.4 67.1h0M49.3 66.3h0M51.2 65.8h0M54.1 66.0h0M56.0 66.0h0M59.4 65.9h0M60.9 66.1h0M66.7 67.2h0M70.0 67.3h0M76.4 66.4h0M79.1 67.1h0M83.5 66.0h0M85.9 66.5h0M89.7 65.9h0M91.8 67.3h0M97.5 66.5h0M100.0 67.0h0M101.6 66.1h0M105.1 65.7h0M109.9 67.3h0M112.4 66.2h0M114.7 65.9h0M116.6 65.6h0M119.7 67.0h0M122.2 66.2h0M124.1 66.3h0M127.4 66.8h0M128.6 66.4h0M132.1 66.3h0M134.4 66.1h0M136.5 65.8h0M141.7 67.1h0M143.8 67.0h0M5.6 69.5h0M7.9 68.5h0M10.7 69.3h0M12.2 68.2h0M15.4 67.8h0M18.1 68.3h0M20.3 67.9h0M22.7 68.6h0M25.4 69.4h0M28.0 68.0h0M32.7 69.1h0M34.7 67.9h0M40.3 68.2h0M42.9 69.3h0M46.1 69.1h0M51.1 68.1h0M52.3 69.2h0M55.1 69.5h0M60.1 68.2h0M67.9 68.3h0M73.6 68.9h0M79.9 68.2h0M83.5 68.9h0M86.3 68.8h0M88.3 68.6h0M90.4 67.8h0M92.7 67.8h0M98.4 68.6h0M101.2 67.8h0M103.7 68.6h0M104.7 68.8h0M108.6 67.9h0M111.1 69.3h0M117.8 68.5h0M120.0 68.0h0M123.2 69.4h0M127.3 68.8h0M130.4 68.4h0M133.6 69.2h0M135.9 68.5h0M138.2 68.8h0M140.5 69.3h0M143.2 68.0h0M5.9 71.3h0M9.5 69.9h0M10.9 70.6h0M13.4 70.9h0M17.4 70.6h0M22.4 70.8h0M23.9 70.4h0M28.6 70.1h0M35.0 70.2h0M39.2 71.6h0M41.7 70.7h0M46.3 70.6h0M49.5 71.6h0M52.4 70.1h0M54.8 71.3h0M56.6 70.1h0M59.4 71.3h0M62.5 71.5h0M64.7 71.7h0M69.1 70.6h0M71.6 70.6h0M78.9 70.3h0M86.7 70.3h0M89.7 70.0h0M92.2 71.5h0M93.7 70.0h0M96.8 71.5h0M99.8 69.9h0M101.2 70.2h0M106.6 71.3h0M109.8 70.4h0M111.7 71.6h0M115.0 71.6h0M116.5 69.9h0M119.5 70.2h0M122.5 71.6h0M124.0 70.3h0M132.0 69.9h0M134.5 71.4h0M136.8 71.5h0M4.9 72.1h0M7.9 72.6h0M10.5 73.3h0M13.8 73.8h0M15.5 72.5h0M18.0 73.0h0M20.8 73.7h0M23.3 72.5h0M29.9 72.6h0M38.4 72.9h0M41.2 72.9h0M42.5 72.7h0M46.0 72.3h0M47.9 72.9h0M51.2 72.5h0M57.8 72.3h0M60.2 72.5h0M63.7 73.2h0M64.8 72.4h0M67.9 72.3h0M69.7 72.2h0M72.5 72.6h0M76.4 73.1h0M77.8 72.2h0M80.4 73.2h0M82.5 72.7h0M85.1 73.8h0M88.2 73.7h0M90.2 72.2h0M95.4 72.6h0M99.8 72.9h0M103.5 73.6h0M104.9 72.3h0M107.7 72.4h0M112.9 72.3h0M114.8 72.7h0M117.8 73.2h0M120.7 73.4h0M125.5 73.4h0M128.0 73.4h0M130.6 73.6h0M133.0 73.3h0M135.1 73.8h0M137.8 72.4h0M140.3 73.3h0M142.2 72.2h0M6.0 75.8h0M9.4 75.4h0M12.4 75.5h0M15.0 74.6h0M17.2 75.4h0M20.1 74.3h0M21.1 74.8h0M25.1 75.6h0M27.5 74.8h0M29.6 74.8h0M32.5 74.8h0M33.5 75.8h0M36.5 75.9h0M42.6 74.9h0M44.2 75.4h0M47.5 75.9h0M49.3 75.0h0M51.5 75.1h0M54.3 74.2h0M57.2 75.6h0M61.3 75.2h0M64.0 75.7h0M69.0 74.9h0M72.4 75.9h0M74.3 75.0h0M79.7 75.9h0M81.9 75.6h0M83.9 75.0h0M87.4 74.7h0M90.1 75.9h0M91.6 75.5h0M94.3 74.9h0M97.2 75.2h0M102.4 74.4h0M104.1 74.4h0M107.3 74.3h0M109.6 75.0h0M111.9 75.2h0M117.4 75.2h0M119.5 74.3h0M122.0 74.5h0M126.5 74.5h0M129.3 75.7h0M131.7 74.8h0M135.1 74.3h0M137.2 74.7h0M139.5 75.3h0M141.4 75.7h0M144.0 76.0h0M8.6 76.5h0M10.5 77.4h0M13.5 76.6h0M15.3 77.4h0M18.1 76.4h0M20.7 76.6h0M22.9 77.9h0M25.7 77.8h0M28.7 78.1h0M30.7 76.5h0M32.5 77.5h0M35.4 77.8h0M43.3 76.8h0M45.6 77.4h0M47.2 77.5h0M50.9 77.0h0M52.9 77.8h0M58.8 76.7h0M66.1 76.8h0M68.5 76.8h0M70.7 77.1h0M72.4 77.9h0M75.0 76.5h0M80.2 78.1h0M82.4 78.0h0M86.3 77.3h0M88.7 76.7h0M90.1 77.0h0M93.4 77.7h0M95.0 78.2h0M97.6 77.8h0M100.4 78.1h0M102.6 78.0h0M106.0 77.3h0M107.5 77.3h0M110.2 76.8h0M112.9 77.4h0M116.3 77.3h0M117.3 76.7h0M120.6 76.8h0M123.4 77.7h0M125.7 77.7h0M127.3 77.5h0M130.1 77.8h0M133.6 78.0h0M136.0 76.8h0M138.6 76.5h0M140.9 77.3h0M142.2 77.1h0M6.7 78.9h0M8.8 78.8h0M12.4 80.1h0M14.6 79.6h0M16.7 79.8h0M18.9 79.0h0M22.2 78.6h0M24.8 79.8h0M26.1 79.2h0M31.7 79.3h0M34.1 80.1h0M36.2 79.2h0M39.3 78.7h0M42.6 78.7h0M44.0 78.7h0M47.6 79.9h0M49.9 80.0h0M51.7 78.7h0M55.0 80.3h0M56.7 79.9h0M59.9 78.9h0M63.9 78.9h0M67.2 79.5h0M68.6 78.6h0M72.1 78.9h0M77.5 79.1h0M78.9 79.5h0M82.1 80.1h0M83.7 78.9h0M88.9 79.2h0M90.9 79.3h0M93.6 80.2h0M97.1 79.4h0M100.1 79.5h0M101.2 79.5h0M104.8 78.7h0M107.6 79.5h0M109.0 80.3h0M111.7 79.4h0M116.2 79.6h0M119.9 79.8h0M122.1 79.0h0M124.0 79.3h0M130.1 80.2h0M130.9 79.4h0M134.4 79.7h0M141.7 79.4h0M144.1 79.3h0M7.5 80.9h0M10.8 82.3h0M13.5 81.3h0M14.8 81.3h0M18.2 82.5h0M22.9 82.0h0M25.0 80.7h0M27.3 81.5h0M29.9 82.0h0M32.8 81.3h0M36.2 80.8h0M37.4 81.1h0M40.7 81.7h0M46.0 81.8h0M48.9 81.8h0M50.8 82.0h0M55.5 81.8h0M62.6 82.2h0M65.6 82.4h0M67.7 81.3h0M69.7 81.5h0M73.9 81.4h0M76.3 82.1h0M80.1 82.1h0M83.8 82.0h0M86.1 81.9h0M88.7 81.1h0M90.5 81.2h0M92.5 81.9h0M98.2 82.4h0M100.9 81.8h0M103.3 82.4h0M106.0 80.8h0M111.2 81.0h0M112.1 81.5h0M116.2 80.9h0M118.6 81.8h0M120.5 80.9h0M123.2 81.6h0M125.6 81.5h0M127.8 81.3h0M130.3 82.4h0M133.6 81.4h0M136.3 82.0h0M137.4 82.4h0M141.0 82.3h0M142.8 80.9h0M6.1 84.0h0M13.8 82.9h0M20.1 83.3h0M21.2 83.5h0M24.4 83.7h0M27.2 84.0h0M34.3 83.3h0M36.9 83.8h0M40.0 84.2h0M42.1 83.9h0M44.4 84.5h0M46.0 83.4h0M48.8 83.2h0M52.2 84.2h0M54.5 84.4h0M57.0 83.8h0M60.0 83.2h0M62.0 83.1h0M64.6 84.6h0M67.0 84.3h0M70.0 83.2h0M71.0 84.4h0M77.1 83.8h0M79.6 83.9h0M81.4 83.1h0M84.6 83.2h0M87.0 82.9h0M92.5 83.0h0M94.5 83.8h0M96.9 84.6h0M101.0 83.0h0M104.4 83.9h0M107.1 84.6h0M109.0 84.4h0M111.7 83.1h0M114.3 83.2h0M116.0 83.4h0M119.5 83.9h0M121.9 83.9h0M124.7 83.7h0M126.8 83.9h0M128.8 84.4h0M132.6 82.9h0M134.6 83.8h0M137.3 84.2h0M139.5 84.6h0M141.6 83.3h0M143.5 84.1h0M5.8 86.4h0M8.8 85.7h0M12.7 85.8h0M18.9 85.8h0M20.6 86.4h0M23.5 85.3h0M26.4 85.1h0M27.2 85.8h0M31.1 85.6h0M33.4 86.8h0M35.7 85.4h0M37.8 86.4h0M40.1 85.3h0M43.5 86.1h0M48.1 86.0h0M50.5 85.8h0M52.3 86.8h0M55.9 85.7h0M57.3 85.9h0M63.9 85.5h0M65.1 85.1h0M68.3 85.7h0M70.5 85.8h0M72.6 86.4h0M75.6 85.2h0M79.8 85.5h0M82.3 85.7h0M85.8 86.7h0M88.3 86.2h0M90.1 86.3h0M92.1 86.3h0M94.7 85.8h0M101.2 86.8h0M102.8 85.8h0M108.5 85.9h0M111.0 85.4h0M112.8 85.6h0M116.3 86.0h0M117.4 86.8h0M120.8 86.1h0M125.1 85.9h0M128.4 86.4h0M130.3 86.3h0M133.6 86.4h0M135.1 86.6h0M137.7 85.5h0M141.1 85.2h0M142.7 86.1h0M6.7 87.9h0M8.8 88.2h0M12.5 88.0h0M15.1 87.2h0M16.9 88.2h0M19.8 88.8h0M22.0 87.6h0M23.7 88.2h0M26.4 88.8h0M29.7 88.2h0M32.4 88.4h0M33.5 88.7h0M37.0 88.3h0M39.7 87.5h0M41.0 87.8h0M44.5 87.8h0M50.1 88.5h0M51.9 88.7h0M54.2 88.5h0M56.1 88.4h0M59.7 88.7h0M61.6 87.6h0M64.0 88.9h0M67.1 87.9h0M69.5 88.4h0M75.0 88.1h0M76.0 87.2h0M81.0 87.9h0M84.1 88.0h0M86.8 87.7h0M88.7 88.4h0M92.0 87.3h0M93.6 87.6h0M97.4 88.8h0M100.9 88.5h0M106.6 87.6h0M108.6 87.8h0M111.0 88.7h0M114.0 88.0h0M116.1 88.1h0M119.9 87.4h0M121.9 87.5h0M123.8 88.8h0M126.8 88.2h0M128.4 87.4h0M132.4 88.7h0M133.8 87.3h0M137.3 88.4h0M139.3 87.7h0M142.5 88.6h0M143.9 87.6h0M5.2 90.4h0M7.8 90.4h0M11.2 90.8h0M12.2 90.2h0M14.8 90.2h0M18.8 90.3h0M21.0 90.2h0M22.4 90.7h0M25.7 90.5h0M27.1 90.8h0M30.3 90.8h0M32.6 90.4h0M35.6 90.2h0M37.8 89.5h0M43.4 90.2h0M44.7 91.1h0M47.7 91.0h0M51.3 90.7h0M53.4 89.7h0M55.7 90.6h0M57.8 89.6h0M60.4 90.1h0M62.5 89.7h0M65.7 90.2h0M71.2 90.7h0M73.3 90.4h0M75.2 90.4h0M78.6 90.4h0M80.3 90.5h0M82.4 91.1h0M85.0 90.0h0M88.9 89.9h0M93.3 89.4h0M94.9 90.4h0M98.1 89.6h0M100.0 90.5h0M103.4 90.5h0M105.8 89.7h0M108.7 89.6h0M111.2 89.9h0M115.9 90.9h0M118.1 90.1h0M119.8 91.0h0M122.4 90.2h0M124.8 90.2h0M131.3 90.9h0M133.4 89.9h0M135.9 90.6h0M138.5 90.3h0M141.1 90.1h0M143.1 91.0h0M6.3 92.7h0M9.5 93.0h0M15.0 93.1h0M16.0 92.7h0M20.9 92.2h0M23.7 91.9h0M27.3 92.7h0M32.0 92.7h0M34.6 92.4h0M36.8 92.0h0M38.8 91.7h0M41.2 93.2h0M44.0 92.2h0M46.5 92.3h0M49.7 91.8h0M53.9 92.6h0M58.7 93.0h0M61.7 91.9h0M66.1 92.4h0M70.0 91.5h0M73.5 92.8h0M77.5 93.0h0M79.8 92.1h0M83.9 92.6h0M87.6 93.3h0M89.5 92.6h0M91.4 92.4h0M93.7 93.2h0M97.0 92.8h0M99.1 93.0h0M101.0 92.3h0M104.3 92.4h0M107.0 93.0h0M108.7 93.3h0M112.4 92.1h0M113.6 91.7h0M119.0 93.1h0M123.5 92.1h0M127.3 92.4h0M131.1 92.6h0M133.5 92.3h0M136.0 92.2h0M138.7 92.6h0M142.0 93.0h0M144.7 93.2h0M5.4 94.1h0M7.4 93.8h0M9.6 94.5h0M13.3 94.1h0M15.1 93.9h0M18.1 94.9h0M19.9 94.1h0M22.6 95.1h0M25.6 95.4h0M28.5 95.4h0M30.9 94.1h0M32.2 94.1h0M35.4 93.7h0M40.7 95.1h0M43.4 95.4h0M48.6 95.1h0M51.1 95.5h0M52.6 94.6h0M55.1 94.6h0M62.3 94.6h0M65.9 93.8h0M67.7 94.3h0M71.4 94.6h0M72.2 94.4h0M76.1 94.4h0M77.9 94.6h0M82.8 94.1h0M84.7 94.0h0M87.7 95.1h0M91.1 95.1h0M95.0 95.5h0M100.4 94.2h0M103.4 93.8h0M105.1 94.5h0M108.9 95.2h0M110.3 94.8h0M112.5 95.0h0M115.8 95.4h0M118.6 94.0h0M120.0 94.4h0M122.4 94.9h0M126.1 94.8h0M128.8 95.1h0M129.8 94.0h0M135.0 94.3h0M137.4 94.2h0M141.2 94.1h0M6.1 97.5h0M9.4 96.9h0M11.8 96.0h0M14.0 96.8h0M17.6 96.8h0M19.3 96.4h0M26.1 96.3h0M29.1 97.5h0M32.0 97.0h0M34.5 97.5h0M36.0 96.9h0M41.4 96.8h0M43.6 96.5h0M47.6 96.1h0M49.6 97.2h0M51.7 97.6h0M54.0 96.0h0M59.6 96.0h0M63.5 95.9h0M67.6 97.0h0M68.8 97.2h0M71.6 96.9h0M73.6 97.1h0M76.0 95.9h0M79.5 96.7h0M84.8 96.6h0M87.2 95.9h0M88.7 97.0h0M91.1 96.9h0M94.4 96.7h0M96.3 97.4h0M99.8 97.1h0M104.0 96.7h0M107.2 97.2h0M112.2 96.9h0M113.4 96.8h0M117.5 96.4h0M119.5 97.6h0M122.5 96.9h0M124.9 97.1h0M126.7 96.7h0M129.1 97.1h0M134.8 96.2h0M136.9 96.9h0M141.2 97.4h0M144.8 96.5h0M11.2 99.6h0M12.6 99.6h0M15.9 98.2h0M17.7 98.9h0M20.4 99.3h0M23.8 98.1h0M26.4 99.6h0M27.4 98.2h0M30.9 99.1h0M36.1 98.1h0M37.6 98.8h0M41.2 98.8h0M44.7 98.8h0M47.9 98.4h0M49.8 99.3h0M53.8 99.3h0M55.6 98.0h0M57.7 98.1h0M60.4 98.7h0M63.6 98.9h0M65.9 98.2h0M68.5 99.6h0M70.2 98.8h0M73.5 98.1h0M78.8 99.5h0M79.7 98.6h0M82.4 99.1h0M85.0 99.8h0M88.2 99.1h0M91.4 99.2h0M93.1 98.7h0M95.2 99.5h0M100.1 99.6h0M105.2 98.7h0M108.3 98.2h0M111.3 98.1h0M113.1 99.8h0M114.7 98.7h0M117.8 98.7h0M119.9 98.8h0M122.5 99.4h0M125.7 98.0h0M128.4 98.5h0M130.1 99.7h0M133.5 98.1h0M134.8 99.2h0M140.5 98.9h0M142.5 99.3h0M5.9 102.0h0M8.4 101.1h0M11.2 101.3h0M13.7 100.2h0M17.6 100.9h0M19.0 100.5h0M22.1 101.3h0M24.2 101.8h0M27.5 101.5h0M30.0 101.7h0M32.0 100.9h0M33.5 101.1h0M38.7 101.2h0M42.3 101.0h0M45.0 101.8h0M47.5 101.8h0M49.9 100.2h0M50.9 101.2h0M54.6 101.2h0M60.1 101.4h0M60.9 101.2h0M63.8 101.2h0M67.0 101.3h0M70.1 101.5h0M71.7 100.8h0M73.7 100.6h0M77.5 100.5h0M78.5 100.6h0M81.0 101.6h0M83.8 100.8h0M88.8 100.3h0M91.2 100.3h0M93.4 102.0h0M96.9 101.1h0M99.4 100.4h0M102.4 101.1h0M104.7 101.4h0M107.2 100.7h0M108.9 101.1h0M112.0 100.4h0M116.4 102.0h0M119.0 101.2h0M122.6 101.8h0M125.1 101.5h0M126.3 101.8h0M129.1 101.4h0M131.1 101.5h0M134.7 101.6h0M136.5 100.4h0M140.1 100.5h0M141.7 101.6h0M144.2 101.2h0M4.8 102.5h0M7.5 104.1h0M12.2 104.1h0M15.1 103.5h0M18.6 102.6h0M20.9 104.0h0M26.0 102.7h0M28.4 103.1h0M30.1 102.6h0M33.6 102.7h0M35.4 103.5h0M38.2 102.9h0M40.8 104.0h0M43.1 102.9h0M45.0 104.0h0M47.4 102.4h0M50.2 103.7h0M52.9 104.0h0M55.2 102.7h0M60.2 104.1h0M62.4 104.1h0M65.8 103.8h0M68.5 103.5h0M74.6 103.8h0M78.7 102.4h0M82.5 103.7h0M85.6 102.7h0M88.4 103.4h0M90.2 103.3h0M93.8 103.6h0M97.1 102.9h0M100.2 103.1h0M103.4 102.6h0M105.8 103.9h0M108.9 102.7h0M114.6 103.7h0M120.1 103.2h0M129.7 102.6h0M133.8 103.3h0M135.2 102.4h0M141.4 103.5h0M142.8 104.1h0M7.5 105.3h0M9.3 104.6h0M14.5 105.7h0M17.4 105.2h0M19.2 105.6h0M23.8 104.6h0M26.0 106.2h0M29.7 104.8h0M31.5 106.1h0M33.9 106.1h0M36.4 104.6h0M39.7 104.7h0M42.3 104.7h0M43.7 105.9h0M46.7 105.1h0M49.2 105.3h0M51.1 105.6h0M54.2 105.2h0M59.5 104.5h0M62.5 105.3h0M67.1 105.6h0M70.9 105.7h0M74.9 105.5h0M77.1 104.7h0M80.0 105.3h0M81.6 105.2h0M84.4 105.8h0M86.0 105.9h0M88.6 106.2h0M92.2 105.1h0M94.5 104.7h0M97.0 105.4h0M98.4 105.7h0M103.6 106.1h0M106.4 104.9h0M108.7 105.6h0M111.0 104.8h0M119.3 105.7h0M122.3 105.8h0M124.6 105.9h0M126.1 105.5h0M129.1 105.6h0M131.4 106.0h0M134.7 104.8h0M137.4 106.1h0M140.0 106.1h0M142.5 105.3h0M143.6 105.6h0M5.5 107.2h0M8.0 107.7h0M10.5 107.6h0M13.7 108.1h0M15.9 108.5h0M17.3 107.0h0M19.8 106.8h0M23.1 106.8h0M25.4 106.7h0M27.6 108.0h0M31.1 107.2h0M33.6 108.4h0M36.4 106.8h0M38.4 107.2h0M39.8 108.1h0M44.9 108.0h0M47.3 108.5h0M50.0 107.8h0M56.2 107.4h0M58.2 108.0h0M60.4 107.9h0M63.5 106.7h0M64.8 106.7h0M67.5 108.0h0M70.8 108.0h0M73.3 108.4h0M76.2 107.6h0M77.5 107.1h0M81.0 108.0h0M82.6 107.4h0M86.1 107.1h0M87.9 107.0h0M90.2 107.1h0M93.4 108.4h0M95.2 108.2h0M97.7 107.5h0M100.9 107.9h0M103.3 106.8h0M104.8 108.4h0M107.4 107.1h0M110.1 107.4h0M112.4 107.8h0M118.4 107.2h0M119.7 108.3h0M123.1 108.4h0M128.0 108.4h0M130.2 107.6h0M133.4 107.2h0M135.3 108.3h0M138.6 107.1h0M140.4 108.0h0M142.1 107.0h0M6.0 108.9h0M8.7 110.1h0M12.1 109.8h0M14.8 110.5h0M16.9 109.3h0M18.6 108.9h0M22.3 109.9h0M23.7 109.1h0M26.6 109.9h0M32.4 110.3h0M34.7 109.2h0M39.2 110.5h0M42.5 110.6h0M47.4 109.9h0M48.7 109.0h0M52.3 110.1h0M54.3 108.9h0M57.5 110.2h0M58.7 109.8h0M61.9 110.2h0M64.0 109.7h0M66.0 109.5h0M68.8 109.1h0M71.3 109.4h0M74.9 109.4h0M76.1 109.8h0M79.2 109.6h0M80.9 110.0h0M83.4 109.6h0M85.9 109.4h0M88.6 110.1h0M91.8 110.1h0M94.7 109.5h0M97.0 109.6h0M103.4 110.6h0M109.4 109.2h0M111.9 110.5h0M115.1 109.0h0M121.5 110.2h0M123.6 109.3h0M127.6 110.5h0M129.5 109.8h0M131.6 109.9h0M133.6 109.0h0M136.2 109.7h0M138.7 109.6h0M141.8 110.4h0M143.7 109.2h0M4.6 111.3h0M8.4 111.9h0M9.8 111.1h0M12.5 111.8h0M15.1 112.0h0M17.8 111.1h0M19.9 111.8h0M22.6 112.3h0M25.9 111.6h0M28.9 112.1h0M30.4 111.7h0M38.2 111.7h0M40.7 112.7h0M43.1 111.8h0M45.3 112.6h0M47.4 111.7h0M50.4 112.1h0M52.4 111.6h0M55.9 111.8h0M57.9 111.8h0M62.3 111.1h0M64.6 112.4h0M67.5 112.1h0M70.0 112.5h0M75.7 112.3h0M81.4 111.6h0M83.6 111.1h0M85.4 111.3h0M87.5 111.5h0M90.6 111.5h0M93.1 112.7h0M94.9 112.0h0M98.8 112.8h0M100.3 111.4h0M102.4 112.8h0M105.0 111.4h0M109.7 112.5h0M112.3 111.6h0M118.9 112.6h0M122.3 111.7h0M125.0 111.9h0M127.5 112.8h0M130.4 111.8h0M132.6 112.2h0M136.1 112.6h0M140.7 112.0h0M142.4 111.1h0M6.8 114.3h0M8.9 114.8h0M12.1 115.0h0M14.8 114.1h0M16.3 113.6h0M19.8 113.9h0M22.4 113.5h0M28.6 113.7h0M31.9 114.6h0M33.7 114.8h0M36.4 114.7h0M39.0 113.3h0M41.2 114.3h0M43.4 113.9h0M47.1 114.8h0M49.4 114.4h0M52.3 114.7h0M57.5 114.6h0M58.9 113.5h0M62.4 113.2h0M66.6 114.2h0M69.8 114.7h0M72.2 114.8h0M73.6 114.6h0M77.3 114.3h0M79.0 113.2h0M82.6 113.2h0M85.0 113.6h0M87.4 114.3h0M88.5 113.5h0M91.9 114.9h0M94.9 113.8h0M96.2 113.4h0M99.9 115.0h0M102.5 115.0h0M104.1 114.4h0M109.5 114.3h0M111.9 113.8h0M115.1 113.8h0M116.5 113.5h0M118.9 114.2h0M122.6 113.3h0M124.2 114.2h0M126.4 114.0h0M128.9 114.1h0M133.6 113.8h0M137.5 114.4h0M141.3 114.5h0M144.5 114.5h0M5.5 116.9h0M8.9 115.6h0M11.1 115.4h0M13.3 116.1h0M14.8 116.9h0M18.6 116.1h0M19.7 115.7h0M22.5 115.7h0M26.0 115.7h0M28.4 116.0h0M29.9 116.5h0M33.5 115.8h0M36.0 116.9h0M40.0 116.1h0M43.6 115.9h0M45.4 115.5h0M48.8 115.8h0M51.1 116.4h0M53.6 115.7h0M56.0 116.7h0M57.2 115.8h0M59.8 117.0h0M62.9 115.8h0M68.6 116.2h0M70.8 116.1h0M73.8 115.5h0M75.8 116.1h0M81.0 116.0h0M83.0 117.0h0M86.1 115.6h0M88.4 115.4h0M90.9 117.0h0M92.7 116.9h0M98.4 116.5h0M101.1 115.8h0M102.3 116.8h0M105.3 116.9h0M107.4 116.2h0M110.2 116.3h0M112.3 116.3h0M115.9 116.8h0M118.6 115.4h0M119.7 117.1h0M122.2 116.2h0M125.4 116.3h0M127.8 116.7h0M129.7 117.0h0M132.7 116.5h0M137.7 115.7h0M140.0 115.9h0M6.6 118.1h0M9.2 118.6h0M10.9 118.3h0M14.1 118.9h0M16.5 118.3h0M19.5 119.0h0M22.0 117.6h0M24.7 118.2h0M28.5 118.6h0M33.8 117.7h0M38.8 118.4h0M40.9 118.9h0M43.6 118.7h0M47.4 119.2h0M49.3 118.6h0M52.2 117.8h0M55.1 119.2h0M58.9 119.1h0M61.2 118.2h0M64.0 119.1h0M66.8 117.7h0M68.6 118.7h0M76.9 117.6h0M78.6 118.4h0M84.0 118.9h0M86.1 118.4h0M89.4 118.8h0M92.4 118.8h0M93.5 118.9h0M97.5 117.9h0M100.0 118.3h0M100.9 119.0h0M105.0 119.0h0M108.4 119.2h0M112.3 118.6h0M115.0 119.0h0M118.7 119.2h0M124.5 118.7h0M126.9 117.9h0M131.6 117.9h0M139.2 119.2h0M144.2 118.9h0M5.7 120.8h0M7.8 121.2h0M10.9 120.4h0M12.1 120.3h0M17.2 121.2h0M19.9 120.9h0M23.4 119.9h0M25.7 119.8h0M27.7 120.5h0M30.9 120.2h0M32.6 120.6h0M35.0 121.2h0M37.7 120.7h0M40.1 120.8h0M46.3 121.4h0M47.8 120.7h0M50.6 120.8h0M53.0 121.3h0M56.1 120.6h0M58.7 121.3h0M60.6 120.6h0M63.7 120.8h0M65.7 120.1h0M69.9 120.5h0M73.6 120.2h0M75.0 120.4h0M78.0 119.9h0M79.6 120.5h0M83.1 119.9h0M88.6 120.2h0M91.2 120.5h0M93.0 120.5h0M95.7 120.7h0M100.4 120.9h0M102.8 119.8h0M107.1 120.0h0M111.1 121.3h0M113.4 120.3h0M115.3 119.9h0M117.8 119.7h0M121.0 119.8h0M122.7 119.9h0M124.9 120.1h0M128.1 120.5h0M130.3 119.7h0M135.0 120.3h0M138.6 120.4h0M142.6 120.3h0M6.5 123.6h0M8.9 121.9h0M11.7 123.2h0M13.8 123.6h0M16.8 122.2h0M19.3 122.2h0M21.9 122.4h0M24.7 123.2h0M27.4 123.3h0M28.8 123.0h0M32.1 122.9h0M34.5 122.6h0M36.9 122.5h0M39.6 123.2h0M41.2 122.5h0M45.0 122.1h0M46.8 123.0h0M48.8 122.0h0M51.0 122.1h0M57.2 122.6h0M60.0 123.6h0M61.1 122.2h0M63.8 122.5h0M70.1 122.0h0M72.4 123.4h0M74.5 121.8h0M76.3 123.1h0M79.2 122.3h0M82.2 122.3h0M85.1 123.3h0M86.0 122.8h0M88.4 122.1h0M91.1 123.0h0M94.5 122.1h0M99.0 121.9h0M101.8 122.1h0M104.2 123.6h0M106.6 122.0h0M109.2 122.3h0M111.2 123.5h0M115.1 123.0h0M117.4 122.6h0M118.5 123.0h0M122.4 122.6h0M124.1 122.0h0M127.3 123.3h0M129.7 122.9h0M131.2 121.9h0M133.8 122.7h0M139.8 122.1h0M144.2 122.6h0M8.7 124.9h0M9.9 124.4h0M12.8 125.3h0M15.7 124.7h0M18.4 125.6h0M20.8 124.1h0M22.2 124.4h0M25.7 124.4h0M31.0 125.1h0M33.9 124.1h0M34.9 124.3h0M37.2 125.6h0M40.0 124.1h0M42.5 124.3h0M47.9 124.1h0M50.9 124.4h0M53.9 125.3h0M56.3 124.7h0M57.3 125.4h0M60.3 125.0h0M63.6 125.1h0M67.6 125.7h0M72.4 125.2h0M76.1 125.7h0M77.2 125.2h0M81.3 124.8h0M83.7 125.7h0M84.9 125.8h0M87.3 124.5h0M89.9 124.1h0M93.4 124.1h0M101.3 124.1h0M104.7 124.1h0M108.8 124.8h0M110.5 125.5h0M113.5 125.0h0M115.0 125.4h0M117.1 125.4h0M120.4 125.3h0M122.4 124.3h0M125.2 124.4h0M127.3 125.3h0M129.7 125.7h0M133.3 125.4h0M137.7 125.3h0M139.9 124.8h0M142.4 124.7h0M6.3 127.9h0M9.0 126.8h0M11.1 127.2h0M13.7 127.1h0M16.3 127.3h0M19.6 127.4h0M22.1 126.7h0M24.0 126.2h0M29.7 127.9h0M32.5 128.0h0M34.6 127.9h0M38.5 126.4h0M41.5 127.8h0M44.0 126.9h0M46.6 127.7h0M50.0 127.1h0M52.1 127.5h0M54.4 126.9h0M57.5 126.4h0M58.6 127.6h0M61.7 127.0h0M64.8 126.8h0M66.6 127.1h0M71.0 127.3h0M73.4 127.0h0M77.3 127.7h0M78.9 126.6h0M85.0 126.2h0M87.1 127.0h0M88.9 126.8h0M95.1 127.6h0M97.0 127.7h0M99.5 126.5h0M100.9 127.6h0M107.6 126.4h0M110.1 127.1h0M111.3 126.8h0M117.0 127.0h0M122.6 127.7h0M123.4 126.4h0M127.6 127.4h0M129.1 126.8h0M131.6 126.3h0M133.9 126.7h0M138.5 127.4h0M141.8 127.5h0M144.7 126.5h0M6.3 129.3h0M11.4 129.4h0M12.3 129.2h0M15.3 128.5h0M18.8 130.1h0M21.3 128.7h0M23.8 129.4h0M24.7 128.9h0M27.9 128.4h0M30.3 129.0h0M33.6 128.6h0M36.2 129.9h0M37.6 129.6h0M39.8 128.7h0M43.0 128.6h0M45.5 129.0h0M48.5 128.6h0M51.0 128.7h0M55.2 128.7h0M58.2 129.0h0M60.9 129.0h0M63.0 128.9h0M65.1 129.1h0M68.5 128.7h0M71.0 129.3h0M76.0 128.7h0M83.3 129.6h0M85.9 130.1h0M87.6 129.7h0M90.8 129.4h0M92.2 129.9h0M96.1 128.8h0M100.0 129.9h0M103.3 129.0h0M106.4 129.7h0M107.3 129.3h0M110.8 129.7h0M113.8 130.0h0M114.6 129.1h0M120.2 128.7h0M123.5 129.2h0M125.8 129.5h0M128.4 128.6h0M130.8 129.0h0M132.7 128.7h0M140.7 128.6h0M143.6 129.7h0M6.5 131.5h0M9.6 131.8h0M11.6 132.2h0M16.5 130.7h0M19.1 131.1h0M23.7 130.6h0M26.4 131.5h0M30.1 130.6h0M34.7 132.0h0M36.9 131.2h0M39.0 131.3h0M42.3 130.7h0M44.8 130.6h0M54.1 132.1h0M56.3 131.5h0M60.1 131.3h0M60.9 131.9h0M63.7 131.7h0M66.4 131.0h0M69.5 132.3h0M71.0 131.5h0M73.6 131.3h0M76.3 130.5h0M78.5 131.3h0M81.1 131.4h0M85.0 130.8h0M87.4 131.0h0M90.0 131.7h0M92.6 131.6h0M93.9 131.8h0M96.8 131.3h0M99.3 130.9h0M102.6 132.0h0M103.9 131.9h0M111.2 131.2h0M114.5 132.2h0M116.0 131.6h0M119.2 130.8h0M120.9 132.0h0M124.9 132.0h0M127.0 131.9h0M131.7 132.0h0M134.2 130.9h0M136.0 131.1h0M138.9 131.4h0M141.7 132.1h0M143.7 130.7h0M6.2 134.2h0M8.5 133.4h0M11.3 133.1h0M12.6 133.3h0M17.7 134.3h0M20.6 132.8h0M26.3 134.4h0M31.3 132.8h0M32.7 133.5h0M38.4 133.6h0M41.0 133.4h0M43.3 133.9h0M46.0 132.8h0M47.8 134.2h0M53.6 133.4h0M55.8 133.7h0M58.4 133.5h0M59.9 133.8h0M62.5 132.8h0M65.9 133.7h0M68.8 133.7h0M72.9 134.1h0M76.2 133.2h0M78.2 134.3h0M81.1 132.9h0M83.4 133.0h0M86.3 134.0h0M88.3 134.1h0M90.3 134.4h0M95.4 133.7h0M97.3 134.3h0M99.6 134.0h0M102.9 134.1h0M104.7 133.8h0M107.2 133.8h0M111.3 133.4h0M113.4 133.0h0M114.8 134.3h0M117.2 133.4h0M120.0 133.8h0M123.7 133.5h0M124.9 133.0h0M131.1 133.8h0M133.8 132.9h0M136.2 134.3h0M139.7 134.3h0M143.0 132.8h0M7.1 135.7h0M8.8 135.9h0M12.5 136.0h0M13.6 136.3h0M16.4 135.1h0M19.2 136.0h0M22.0 134.9h0M23.4 136.2h0M26.7 135.7h0M28.5 136.5h0M31.1 134.9h0M34.0 136.2h0M36.3 136.2h0M39.2 136.4h0M41.4 136.3h0M43.8 135.6h0M46.0 135.2h0M48.5 135.2h0M51.7 136.0h0M54.0 136.2h0M56.8 135.2h0M59.2 135.9h0M60.9 136.0h0M66.1 135.9h0M69.6 135.1h0M72.2 135.6h0M74.9 135.7h0M76.9 136.1h0M79.8 135.3h0M81.8 136.3h0M85.1 135.8h0M88.7 135.5h0M92.0 135.4h0M94.7 136.6h0M96.1 135.5h0M99.1 136.6h0M101.8 135.6h0M104.6 136.4h0M106.5 136.5h0M108.4 136.2h0M114.5 135.3h0M116.5 135.9h0M121.2 136.3h0M123.7 136.4h0M126.0 135.3h0M130.0 135.5h0M131.2 135.7h0M133.9 135.3h0M136.9 135.2h0M140.0 135.1h0M141.9 136.2h0M144.2 136.0h0M4.8 138.4h0M7.2 137.2h0M10.4 138.3h0M12.4 137.1h0M14.9 137.6h0M18.4 137.6h0M20.2 138.7h0M22.4 138.5h0M27.9 137.1h0M31.1 137.5h0M33.7 137.9h0M35.3 137.4h0M38.4 138.5h0M45.0 138.3h0M47.2 138.2h0M50.2 137.2h0M53.2 138.4h0M56.2 137.7h0M58.5 137.1h0M60.9 137.5h0M62.8 137.0h0M65.4 137.6h0M67.9 138.4h0M70.9 137.2h0M72.2 137.1h0M76.1 138.5h0M78.2 138.0h0M81.2 137.0h0M82.6 137.1h0M85.6 137.6h0M87.2 138.1h0M89.6 137.6h0M97.9 138.4h0M102.2 137.0h0M106.1 137.9h0M107.4 137.4h0M110.7 138.5h0M113.0 137.3h0M114.8 137.5h0M123.9 138.8h0M124.6 138.4h0M127.4 137.3h0M131.2 138.6h0M132.4 138.3h0M135.1 137.9h0M138.5 138.1h0M140.1 138.6h0M142.7 137.0h0M6.3 140.6h0M9.1 140.0h0M15.1 140.0h0M22.3 139.9h0M24.0 140.4h0M26.8 139.8h0M29.1 140.2h0M37.3 139.2h0M39.8 139.3h0M41.8 139.9h0M44.7 141.0h0M50.9 139.7h0M57.1 140.6h0M60.9 139.6h0M64.8 140.9h0M67.5 139.8h0M68.4 140.2h0M72.1 140.7h0M73.6 140.1h0M78.8 139.2h0M81.2 140.8h0M84.5 140.1h0M86.7 140.2h0M89.7 139.8h0M91.2 140.2h0M96.9 140.6h0M98.9 139.8h0M102.3 139.3h0M104.6 139.8h0M107.0 139.4h0M109.2 140.0h0M111.7 140.3h0M119.6 139.9h0M120.9 140.1h0M125.1 139.5h0M129.6 140.9h0M132.4 140.9h0M134.4 140.9h0M137.4 139.4h0M142.0 140.1h0M144.2 140.6h0M4.8 142.2h0M8.8 142.0h0M10.1 141.9h0M13.4 141.4h0M15.4 142.1h0M17.8 142.4h0M22.5 143.1h0M24.7 143.1h0M27.4 142.9h0M33.4 141.4h0M34.8 141.9h0M38.2 142.7h0M40.6 141.7h0M43.1 142.7h0M45.3 142.3h0M49.8 143.1h0M52.4 143.0h0M55.9 142.1h0M57.5 141.7h0M61.1 142.8h0M62.6 141.4h0M68.1 142.9h0M70.1 142.5h0M72.8 141.6h0M74.8 142.5h0M77.7 142.3h0M81.1 141.5h0M83.8 141.8h0M86.3 141.7h0M88.0 141.5h0M90.7 142.3h0M92.4 142.9h0M95.1 143.0h0M98.2 142.0h0M99.6 141.9h0M102.9 142.0h0M105.0 142.1h0M107.7 142.5h0M116.1 142.0h0M118.1 141.7h0M122.7 142.6h0M125.4 142.4h0M128.8 142.5h0M130.3 141.6h0M132.1 141.6h0M135.1 142.9h0M137.2 142.6h0M139.9 143.1h0M143.8 142.7h0M7.3 144.0h0M10.1 145.2h0M12.3 144.5h0M15.1 144.0h0M17.2 145.1h0M18.4 144.2h0M24.9 144.5h0M29.7 145.2h0M31.8 143.5h0M35.1 144.3h0M37.6 143.6h0M41.7 144.6h0M44.3 143.6h0M46.2 145.3h0M49.8 143.5h0M53.5 143.5h0M60.1 145.2h0M61.7 145.0h0M64.5 145.2h0M66.1 144.2h0M68.9 144.6h0M72.5 144.0h0M73.7 143.8h0M77.2 143.8h0M78.8 145.3h0M82.0 144.7h0M86.8 144.7h0M89.0 144.8h0M90.9 145.1h0M93.4 143.6h0M96.9 143.5h0M99.1 144.6h0M103.4 144.8h0M107.3 143.6h0M115.0 144.0h0M116.9 143.8h0M119.0 144.1h0M121.7 144.4h0M124.3 144.8h0M126.5 143.7h0M129.6 144.1h0M132.3 145.1h0M136.4 144.3h0M142.1 144.5h0M143.9 143.8h0" stroke="#fff" stroke-opacity="0.52" stroke-width="1.8" stroke-linecap="round" fill="none"/>
<rect x="8" y="8" width="134.5" height="134.8" fill="url(#ga)"/>
<ellipse cx="73" cy="88" rx="36" ry="100" fill="url(#ga2)" transform="rotate(-15 73 88)"/>
<ellipse cx="64" cy="74" rx="21" ry="42" fill="url(#ga2)" transform="rotate(-10 64 74)" opacity="1.25"/><ellipse cx="64" cy="76" rx="14" ry="26" fill="url(#ga2)" opacity="0.5"/>
<ellipse cx="30" cy="10" rx="30" ry="18" fill="url(#ga2)" opacity="0.5"/><ellipse cx="88" cy="135" rx="30" ry="30" fill="url(#ga2)" opacity="0.6"/>
<ellipse cx="8" cy="68" rx="17" ry="28" fill="url(#ga3)"/><ellipse cx="24" cy="62" rx="16" ry="26" fill="url(#ga3)" opacity="0.3"/>
</g></g>
<g filter="url(#fb)"><rect x="187.1" y="8.7" width="134" height="135.1" fill="url(#gb0)"/><path d="M184.6 8.0h0M187.7 9.1h0M190.2 8.9h0M193.8 8.2h0M196.8 9.0h0M200.9 8.8h0M203.1 8.0h0M209.7 8.5h0M213.2 8.8h0M215.7 8.4h0M219.7 9.4h0M222.5 9.3h0M226.6 9.3h0M229.9 8.5h0M233.4 8.2h0M236.3 8.6h0M239.2 9.3h0M242.9 8.5h0M246.3 8.6h0M249.6 9.0h0M251.8 8.4h0M254.9 9.3h0M259.3 8.4h0M262.3 8.7h0M265.4 8.8h0M268.0 8.7h0M271.9 8.1h0M275.3 9.3h0M278.6 8.0h0M281.1 8.3h0M284.1 8.7h0M287.6 8.3h0M291.1 9.0h0M297.2 9.0h0M301.6 8.0h0M303.5 8.3h0M306.9 8.2h0M310.5 8.0h0M313.4 8.0h0M317.4 9.1h0M320.2 8.0h0M324.1 9.1h0M186.0 12.1h0M188.8 11.1h0M191.8 10.9h0M195.9 11.0h0M198.4 11.5h0M202.5 11.2h0M205.0 10.8h0M207.8 10.8h0M214.2 11.7h0M218.8 12.2h0M220.9 11.4h0M224.7 11.7h0M228.1 11.1h0M231.1 10.8h0M237.0 11.9h0M240.2 11.0h0M243.7 11.5h0M247.0 11.7h0M251.2 12.2h0M253.7 11.5h0M256.4 11.4h0M259.8 10.9h0M263.4 11.5h0M267.0 11.2h0M269.9 10.8h0M272.7 11.2h0M276.8 10.8h0M279.7 11.5h0M283.2 10.9h0M286.1 12.2h0M290.0 11.1h0M292.7 11.5h0M295.9 10.9h0M298.7 12.0h0M303.3 11.8h0M309.5 11.8h0M312.1 11.5h0M315.2 11.6h0M319.5 12.0h0M322.6 11.2h0M183.9 14.0h0M187.5 15.0h0M190.9 13.7h0M194.4 13.8h0M196.3 13.7h0M200.9 14.6h0M203.1 13.9h0M207.0 14.2h0M209.4 14.4h0M213.6 13.7h0M216.8 14.0h0M219.6 14.6h0M223.7 14.8h0M225.7 14.2h0M233.3 13.8h0M235.9 14.2h0M239.9 14.6h0M243.1 14.1h0M245.9 14.7h0M248.5 14.5h0M252.5 15.0h0M254.7 14.3h0M259.3 14.6h0M261.2 15.0h0M265.4 14.9h0M267.9 14.8h0M271.2 14.7h0M274.5 14.8h0M278.4 14.2h0M281.5 14.3h0M285.4 13.7h0M291.7 14.6h0M294.4 14.6h0M297.4 14.3h0M304.6 13.8h0M307.9 14.2h0M311.1 14.9h0M313.4 14.2h0M316.9 13.6h0M321.2 14.1h0M323.5 14.2h0M185.3 17.4h0M188.9 17.8h0M192.6 16.8h0M195.8 17.4h0M199.1 16.5h0M201.7 17.2h0M205.5 17.3h0M207.9 17.1h0M211.2 17.8h0M215.3 17.0h0M217.8 16.5h0M220.8 17.1h0M225.2 17.8h0M228.0 17.8h0M230.5 16.8h0M234.6 17.0h0M238.0 16.7h0M241.0 17.0h0M243.8 17.7h0M247.3 17.4h0M250.9 17.5h0M254.5 17.5h0M256.8 17.3h0M260.1 17.0h0M264.3 16.9h0M267.4 16.7h0M269.5 16.4h0M273.1 17.8h0M277.0 17.0h0M279.4 17.6h0M282.8 17.4h0M286.0 17.8h0M289.0 16.7h0M292.7 16.8h0M295.7 16.8h0M299.1 17.0h0M301.9 16.6h0M305.7 17.6h0M309.1 17.7h0M312.7 17.3h0M316.3 17.0h0M319.0 16.9h0M322.2 17.3h0M184.7 20.7h0M187.1 19.8h0M189.8 19.4h0M193.1 20.6h0M197.6 19.3h0M200.6 19.2h0M203.2 19.5h0M207.0 19.3h0M210.2 19.3h0M212.8 19.9h0M215.9 20.0h0M219.2 20.6h0M223.0 20.2h0M225.7 19.9h0M228.9 19.4h0M232.0 19.5h0M236.1 20.5h0M239.5 20.0h0M241.9 19.4h0M245.9 19.5h0M248.6 19.9h0M252.0 20.4h0M255.5 19.9h0M259.1 20.7h0M262.3 20.3h0M264.5 20.0h0M268.0 20.1h0M271.9 20.3h0M274.9 19.3h0M278.7 20.5h0M280.8 19.5h0M284.9 20.0h0M288.6 20.7h0M291.1 19.6h0M294.9 20.3h0M298.3 20.1h0M300.8 20.3h0M304.4 19.4h0M307.1 20.6h0M310.4 20.0h0M314.0 20.6h0M317.6 20.2h0M320.4 19.9h0M323.7 19.6h0M185.5 22.3h0M188.9 22.5h0M192.2 23.3h0M195.5 23.0h0M198.8 22.5h0M202.3 22.5h0M207.9 22.5h0M211.2 23.1h0M214.7 22.7h0M217.4 22.9h0M220.8 22.9h0M223.9 22.9h0M228.0 22.8h0M231.7 22.2h0M235.0 23.4h0M237.9 23.3h0M241.1 22.8h0M243.6 22.1h0M246.8 23.0h0M250.5 23.5h0M253.8 22.6h0M256.7 22.8h0M259.7 23.4h0M262.9 23.1h0M266.8 22.2h0M270.1 23.2h0M273.6 23.1h0M275.9 22.7h0M279.3 22.5h0M283.2 23.0h0M285.7 22.9h0M289.8 22.7h0M292.5 23.0h0M296.7 22.6h0M300.0 22.9h0M303.0 22.6h0M306.0 23.2h0M309.1 23.5h0M316.1 22.0h0M319.6 23.1h0M321.4 22.8h0M183.9 25.5h0M186.7 24.9h0M191.1 26.1h0M193.4 26.2h0M200.6 26.2h0M204.1 25.0h0M206.1 25.2h0M209.2 25.4h0M212.9 25.8h0M219.7 25.4h0M222.4 25.5h0M226.0 26.3h0M229.5 25.5h0M233.4 26.0h0M235.4 25.7h0M239.0 24.9h0M243.2 25.8h0M245.3 25.5h0M248.8 25.2h0M252.6 26.3h0M255.6 24.9h0M259.2 26.3h0M262.1 25.9h0M265.5 25.4h0M268.4 25.8h0M271.8 25.5h0M275.3 25.5h0M278.8 26.0h0M282.1 25.0h0M284.9 25.5h0M288.7 25.4h0M291.6 25.9h0M294.9 25.4h0M297.9 25.8h0M300.9 26.3h0M304.1 26.2h0M307.3 25.8h0M311.3 25.8h0M313.8 24.9h0M316.6 26.3h0M320.6 25.9h0M324.2 25.3h0M185.7 28.3h0M188.7 27.8h0M198.9 27.7h0M201.8 29.0h0M205.6 28.6h0M207.9 28.6h0M211.3 28.9h0M215.2 28.3h0M218.1 28.5h0M221.8 29.1h0M224.2 28.9h0M227.4 28.5h0M231.6 28.5h0M233.8 28.3h0M237.4 27.9h0M241.1 29.0h0M244.2 28.8h0M246.9 28.7h0M254.2 27.9h0M256.9 28.9h0M263.3 28.5h0M266.3 29.1h0M270.5 29.0h0M274.0 27.7h0M276.6 27.8h0M279.9 28.8h0M282.4 29.0h0M286.2 27.8h0M289.5 27.9h0M296.5 27.9h0M299.5 28.6h0M302.8 28.9h0M306.5 27.7h0M308.5 28.8h0M313.0 29.1h0M315.7 28.2h0M319.2 27.9h0M321.4 27.7h0M184.3 31.8h0M186.7 31.6h0M190.7 31.2h0M193.0 31.4h0M196.4 31.7h0M200.0 31.7h0M203.2 31.3h0M206.8 30.6h0M210.1 31.6h0M213.0 30.6h0M216.4 31.1h0M220.2 31.0h0M223.2 31.0h0M226.9 31.5h0M232.5 31.1h0M235.5 30.9h0M239.8 30.6h0M242.8 30.7h0M245.9 31.5h0M248.7 31.2h0M252.1 31.1h0M255.0 31.0h0M258.8 31.6h0M262.0 31.0h0M264.7 31.9h0M268.9 30.7h0M271.1 30.9h0M274.2 31.1h0M278.7 30.8h0M284.5 30.9h0M287.6 30.9h0M290.8 31.2h0M294.2 31.1h0M298.2 31.6h0M300.5 31.7h0M304.3 31.3h0M307.2 30.6h0M314.5 31.2h0M317.7 31.2h0M320.7 30.7h0M324.2 31.6h0M185.5 34.7h0M188.8 34.6h0M191.4 34.5h0M195.3 34.4h0M198.2 34.5h0M205.7 34.1h0M209.1 34.4h0M212.2 34.7h0M215.3 34.0h0M217.7 33.7h0M224.4 34.6h0M230.6 33.8h0M235.0 34.2h0M237.1 33.4h0M241.5 33.9h0M244.6 33.4h0M247.2 33.6h0M250.8 33.5h0M253.5 34.3h0M257.5 33.9h0M261.0 34.2h0M267.5 34.3h0M270.0 34.7h0M273.5 34.2h0M275.8 33.6h0M280.3 34.4h0M282.4 33.3h0M285.6 34.2h0M290.2 33.4h0M293.1 34.3h0M295.7 34.6h0M299.6 34.1h0M305.4 33.6h0M309.3 34.3h0M312.9 33.3h0M315.7 34.2h0M319.1 34.6h0M321.5 34.5h0M183.4 36.8h0M186.8 36.5h0M190.9 36.9h0M193.4 37.3h0M197.7 36.2h0M199.6 36.8h0M203.6 36.6h0M206.9 37.6h0M210.2 36.2h0M213.4 36.4h0M215.9 36.8h0M219.7 36.3h0M222.8 37.1h0M225.8 36.6h0M228.9 37.0h0M232.4 36.1h0M235.3 36.3h0M239.6 37.5h0M242.0 37.4h0M248.4 36.9h0M252.4 37.5h0M255.8 36.4h0M259.3 37.3h0M262.3 36.9h0M264.9 37.3h0M268.9 36.5h0M271.1 37.1h0M281.7 37.6h0M284.9 37.0h0M288.7 37.3h0M290.6 37.4h0M294.8 37.4h0M297.2 36.7h0M301.5 37.6h0M304.4 37.4h0M307.6 36.4h0M310.6 36.8h0M313.7 37.3h0M317.1 37.2h0M320.8 37.4h0M323.6 37.1h0M184.9 39.9h0M188.7 39.1h0M192.4 40.2h0M195.7 40.2h0M198.1 39.9h0M202.2 39.3h0M204.9 39.6h0M208.6 39.1h0M210.9 39.2h0M215.4 39.3h0M217.6 39.7h0M220.7 39.6h0M225.1 39.1h0M227.1 39.2h0M231.6 40.3h0M234.3 39.7h0M238.3 40.3h0M244.1 39.9h0M247.8 39.1h0M251.1 39.2h0M254.0 39.1h0M256.5 39.2h0M260.7 39.8h0M263.8 39.5h0M267.0 39.9h0M269.7 39.8h0M273.6 39.0h0M276.1 39.8h0M279.2 40.1h0M283.2 40.0h0M286.2 39.4h0M289.2 39.3h0M292.6 40.0h0M296.0 40.1h0M298.6 40.2h0M302.9 40.3h0M305.7 39.8h0M308.7 40.0h0M312.0 38.9h0M315.8 39.2h0M318.2 40.3h0M322.7 39.4h0M184.2 42.2h0M187.7 42.1h0M190.5 42.9h0M193.8 42.5h0M197.0 42.4h0M200.0 43.2h0M202.9 42.3h0M207.0 41.8h0M209.9 43.0h0M213.8 42.9h0M219.7 42.7h0M222.5 43.0h0M229.1 41.8h0M233.4 42.7h0M235.8 42.1h0M239.7 42.1h0M242.1 42.1h0M245.0 41.8h0M249.4 42.6h0M252.5 43.1h0M254.7 41.9h0M258.1 42.2h0M262.7 43.2h0M265.1 42.3h0M268.4 41.9h0M272.2 42.3h0M275.4 43.1h0M277.8 43.1h0M281.1 42.7h0M285.4 42.3h0M287.6 42.2h0M291.8 42.7h0M297.2 43.2h0M301.4 42.1h0M304.9 41.8h0M307.5 42.2h0M311.2 42.1h0M313.9 42.4h0M317.6 42.2h0M320.4 41.8h0M323.7 42.0h0M185.7 45.3h0M188.3 45.0h0M192.3 45.6h0M198.9 45.6h0M202.4 46.0h0M205.0 45.4h0M208.6 45.7h0M211.7 44.9h0M214.1 45.3h0M218.7 45.3h0M220.9 44.6h0M224.3 45.1h0M228.2 45.8h0M231.2 45.5h0M234.5 45.2h0M236.9 45.7h0M240.3 45.5h0M243.8 44.7h0M250.0 45.6h0M253.6 45.2h0M257.5 45.5h0M259.8 45.4h0M263.9 44.9h0M266.6 45.0h0M270.5 45.3h0M273.8 44.6h0M276.3 44.9h0M279.4 45.2h0M282.5 45.0h0M289.8 46.0h0M292.6 46.0h0M295.5 45.3h0M299.5 44.6h0M302.6 45.1h0M306.2 44.7h0M309.4 45.7h0M313.0 45.6h0M316.1 45.5h0M319.0 45.7h0M322.0 45.7h0M184.3 48.7h0M186.7 48.7h0M190.0 47.4h0M193.6 48.6h0M196.8 48.5h0M202.9 48.5h0M206.2 47.5h0M210.3 47.5h0M215.8 48.4h0M219.7 47.9h0M225.8 48.2h0M229.1 48.4h0M232.8 48.0h0M236.0 47.4h0M238.8 47.9h0M242.6 48.5h0M245.5 48.3h0M248.6 48.5h0M252.4 48.2h0M255.4 48.5h0M258.6 48.0h0M262.1 47.8h0M265.7 47.8h0M267.7 48.6h0M271.1 47.4h0M274.5 48.7h0M278.4 47.9h0M280.9 47.8h0M284.0 48.2h0M287.2 48.7h0M290.7 47.4h0M293.8 48.1h0M297.2 48.7h0M301.3 47.7h0M304.5 48.5h0M308.1 48.0h0M311.3 47.8h0M313.5 47.5h0M317.3 48.4h0M320.2 48.5h0M323.2 48.2h0M185.6 50.4h0M188.5 51.2h0M195.2 51.5h0M198.6 51.4h0M202.5 50.5h0M204.8 50.6h0M208.7 51.1h0M211.5 50.4h0M215.5 51.0h0M218.1 51.4h0M221.5 51.3h0M227.1 50.8h0M230.4 51.4h0M234.7 51.6h0M237.9 51.1h0M241.2 51.3h0M244.5 50.4h0M248.0 50.5h0M250.6 51.3h0M253.2 50.5h0M257.7 51.0h0M260.1 50.9h0M264.1 50.7h0M266.6 50.5h0M273.5 50.9h0M277.0 50.8h0M279.9 51.6h0M283.0 51.3h0M286.8 50.7h0M289.6 51.0h0M292.5 51.7h0M296.4 50.8h0M299.0 50.4h0M302.8 50.6h0M305.9 50.3h0M309.8 51.2h0M311.8 51.0h0M315.9 51.5h0M318.2 51.6h0M322.7 51.1h0M184.1 54.1h0M187.9 54.1h0M190.3 53.3h0M193.6 53.8h0M196.9 54.4h0M199.5 53.8h0M203.1 54.1h0M207.3 53.7h0M210.1 54.1h0M213.8 54.5h0M216.6 53.2h0M220.2 54.3h0M222.8 53.9h0M229.5 54.1h0M232.0 53.0h0M235.8 54.3h0M239.8 54.1h0M242.8 53.3h0M245.8 53.9h0M248.9 54.2h0M251.7 54.3h0M254.8 54.2h0M258.6 53.6h0M261.5 53.8h0M265.4 54.0h0M268.9 53.7h0M271.2 53.9h0M275.4 54.2h0M278.3 53.9h0M280.7 54.1h0M284.7 54.4h0M291.0 53.9h0M294.8 53.3h0M297.6 53.6h0M301.6 53.8h0M303.6 53.8h0M307.8 54.4h0M310.5 54.3h0M314.7 53.2h0M316.7 53.4h0M321.0 53.9h0M323.7 53.4h0M185.1 57.2h0M188.4 57.1h0M192.4 56.2h0M195.8 56.8h0M197.9 56.3h0M201.7 57.3h0M205.6 56.8h0M208.8 56.1h0M212.3 56.0h0M214.6 57.1h0M217.5 56.4h0M221.4 55.8h0M224.3 55.8h0M228.1 56.7h0M230.4 56.9h0M233.6 56.6h0M237.5 56.9h0M240.7 56.9h0M244.3 55.9h0M246.9 56.4h0M251.0 56.1h0M253.7 56.5h0M256.6 57.3h0M259.9 57.0h0M263.4 56.0h0M270.1 56.8h0M273.1 55.9h0M275.8 57.2h0M279.4 56.2h0M282.4 56.5h0M286.9 56.5h0M289.5 56.0h0M296.6 55.9h0M299.8 57.3h0M302.3 57.0h0M305.9 57.0h0M309.5 56.1h0M311.8 56.3h0M316.2 56.0h0M319.2 56.2h0M321.6 57.3h0M183.8 60.1h0M186.9 58.7h0M190.7 59.0h0M197.6 59.6h0M200.5 59.0h0M203.4 60.0h0M207.0 59.9h0M210.3 60.0h0M212.9 59.0h0M217.0 59.1h0M219.1 59.7h0M222.8 58.8h0M226.7 59.2h0M229.3 59.4h0M233.3 59.1h0M236.1 59.3h0M238.8 59.4h0M243.0 59.9h0M245.9 59.8h0M249.6 59.8h0M252.3 60.0h0M259.3 58.7h0M261.6 59.0h0M268.2 59.6h0M271.8 58.8h0M275.6 59.0h0M277.8 59.1h0M281.9 59.4h0M284.8 58.7h0M288.0 59.1h0M291.0 59.3h0M294.9 58.9h0M298.2 58.9h0M300.6 59.9h0M304.7 59.9h0M307.7 59.7h0M310.5 59.8h0M314.0 59.9h0M317.1 59.6h0M320.9 59.8h0M323.6 59.9h0M184.9 62.6h0M188.8 62.8h0M192.4 61.5h0M194.7 62.9h0M198.1 62.5h0M202.2 62.2h0M205.2 61.5h0M207.6 62.9h0M211.8 61.8h0M214.6 62.3h0M221.8 62.3h0M224.7 62.3h0M227.4 62.0h0M231.4 62.8h0M234.6 62.4h0M238.0 62.7h0M240.6 62.1h0M243.4 61.6h0M247.7 62.0h0M249.8 61.7h0M253.2 62.7h0M257.5 61.8h0M260.7 62.2h0M263.6 61.8h0M266.8 62.3h0M270.0 62.8h0M273.8 62.8h0M275.8 61.9h0M280.3 61.6h0M282.6 61.7h0M286.9 61.8h0M290.0 61.8h0M292.8 62.5h0M295.7 61.6h0M298.9 61.8h0M303.2 62.0h0M305.6 62.1h0M309.2 62.3h0M312.1 62.1h0M316.2 62.6h0M319.5 61.9h0M322.0 61.6h0M184.6 64.4h0M187.1 64.6h0M189.8 64.7h0M193.4 65.3h0M197.3 65.3h0M200.1 64.6h0M203.5 64.8h0M206.1 64.4h0M210.0 65.3h0M212.8 64.4h0M215.9 65.4h0M220.3 64.9h0M223.2 64.4h0M226.3 65.3h0M229.1 64.5h0M232.5 65.6h0M236.0 64.9h0M238.6 65.3h0M242.0 65.4h0M249.0 65.5h0M251.6 65.0h0M255.5 64.3h0M259.1 65.1h0M262.2 64.8h0M265.8 64.9h0M268.1 65.6h0M271.0 65.2h0M275.2 64.4h0M278.9 65.1h0M281.7 64.4h0M284.6 64.8h0M288.0 64.4h0M291.7 65.4h0M293.8 65.2h0M297.3 64.6h0M300.7 64.7h0M304.1 65.4h0M307.3 64.4h0M310.1 65.5h0M313.9 65.1h0M317.5 64.6h0M320.8 64.8h0M323.6 64.2h0M186.1 67.3h0M188.9 68.4h0M194.7 68.1h0M198.8 67.1h0M201.8 68.4h0M204.7 68.2h0M209.0 68.0h0M212.1 67.3h0M218.3 68.4h0M220.8 67.5h0M224.7 68.2h0M227.1 67.4h0M230.7 67.6h0M233.9 67.8h0M238.3 68.1h0M240.2 67.5h0M244.8 67.5h0M246.6 67.3h0M250.6 67.9h0M253.4 68.0h0M257.8 67.7h0M259.9 68.1h0M263.3 68.3h0M266.6 67.2h0M269.7 68.5h0M273.3 67.7h0M276.4 67.2h0M279.2 68.0h0M283.7 68.3h0M286.8 67.7h0M289.8 68.3h0M293.1 68.4h0M299.3 67.8h0M302.3 67.9h0M305.1 67.6h0M309.8 67.2h0M312.7 68.6h0M315.9 68.0h0M319.3 67.8h0M322.2 67.7h0M184.1 70.7h0M187.2 70.5h0M189.9 70.0h0M193.8 69.9h0M196.4 70.2h0M199.5 70.2h0M203.9 71.0h0M206.7 71.1h0M210.4 70.5h0M213.8 70.2h0M216.7 70.6h0M219.0 70.5h0M223.0 70.5h0M226.0 70.5h0M230.1 70.3h0M232.0 70.0h0M235.2 70.5h0M238.8 70.9h0M242.0 70.5h0M248.4 70.0h0M252.0 70.1h0M255.1 71.3h0M258.4 69.9h0M262.5 70.2h0M265.1 70.3h0M268.1 70.7h0M271.5 71.0h0M274.3 70.0h0M277.7 70.5h0M282.2 70.6h0M284.9 71.1h0M287.5 70.7h0M290.7 70.8h0M294.3 70.6h0M297.5 71.3h0M300.9 69.9h0M304.7 70.6h0M308.1 70.9h0M311.2 70.2h0M313.2 70.8h0M317.5 71.2h0M320.9 70.2h0M323.1 70.1h0M185.0 73.8h0M189.3 74.1h0M195.6 73.4h0M202.1 73.5h0M205.1 72.7h0M208.1 73.4h0M211.2 74.1h0M214.3 73.8h0M218.6 74.0h0M221.5 73.3h0M225.3 73.6h0M228.5 72.7h0M231.8 73.0h0M233.7 73.3h0M237.0 73.0h0M240.3 73.0h0M244.2 73.5h0M247.6 74.1h0M250.6 74.0h0M254.5 73.3h0M256.9 72.9h0M260.6 74.0h0M262.9 73.6h0M267.0 73.1h0M270.1 73.1h0M273.9 72.8h0M276.5 73.3h0M280.4 72.8h0M283.7 73.3h0M286.8 73.7h0M289.9 73.5h0M292.4 73.3h0M295.3 73.7h0M298.9 73.9h0M303.0 73.6h0M306.1 73.1h0M309.5 73.4h0M312.8 73.4h0M315.2 73.4h0M319.3 73.1h0M321.5 73.2h0M184.1 76.0h0M187.2 76.3h0M190.3 76.3h0M193.5 76.6h0M197.3 76.1h0M200.9 76.6h0M202.8 76.5h0M206.2 76.7h0M210.6 76.1h0M212.8 75.5h0M217.2 76.1h0M219.1 76.7h0M222.6 76.7h0M226.3 76.6h0M229.8 76.4h0M232.4 76.2h0M235.9 76.2h0M239.2 76.4h0M243.2 75.7h0M246.1 76.7h0M248.6 76.6h0M251.9 76.7h0M255.1 76.2h0M259.1 76.9h0M262.1 75.6h0M265.8 76.7h0M267.8 76.0h0M271.9 75.8h0M274.9 76.6h0M277.8 75.8h0M280.9 75.5h0M288.5 76.1h0M291.3 76.0h0M294.3 75.9h0M297.8 75.7h0M301.3 76.2h0M304.5 76.4h0M307.6 76.2h0M310.3 77.0h0M314.7 76.1h0M317.1 76.6h0M319.7 75.8h0M323.8 75.6h0M186.0 79.7h0M189.1 78.5h0M192.1 78.3h0M195.2 79.4h0M198.2 78.7h0M201.8 79.2h0M205.5 79.0h0M208.6 79.2h0M211.6 79.4h0M215.3 78.9h0M217.4 79.6h0M221.5 78.8h0M224.6 79.1h0M228.3 78.4h0M231.7 78.5h0M235.0 78.8h0M238.0 78.4h0M240.1 79.3h0M247.6 79.1h0M250.2 78.5h0M253.4 78.7h0M256.6 78.9h0M260.7 78.8h0M263.7 79.4h0M266.6 79.3h0M273.7 79.7h0M276.1 79.4h0M280.4 78.8h0M282.4 78.7h0M285.7 79.4h0M289.7 78.6h0M293.4 79.4h0M295.4 78.5h0M299.0 79.1h0M303.2 78.4h0M306.0 79.5h0M309.3 78.5h0M312.9 78.3h0M316.2 79.7h0M319.6 79.0h0M322.5 79.1h0M183.4 82.4h0M186.5 81.4h0M191.1 82.2h0M193.6 81.6h0M196.3 81.3h0M200.8 82.5h0M204.1 81.3h0M206.1 82.0h0M210.3 82.2h0M213.7 81.9h0M216.8 82.2h0M220.1 82.6h0M222.9 82.2h0M226.7 81.6h0M229.8 82.6h0M232.0 82.4h0M239.0 81.1h0M241.7 81.2h0M245.5 82.3h0M248.2 82.5h0M252.0 81.5h0M254.8 82.3h0M258.5 82.5h0M261.4 81.3h0M264.5 82.1h0M268.7 81.8h0M275.3 82.0h0M278.4 81.9h0M280.8 82.1h0M285.2 82.1h0M288.1 82.2h0M291.8 81.6h0M294.4 82.5h0M297.3 81.7h0M301.6 81.8h0M303.9 82.1h0M307.2 82.4h0M311.0 82.2h0M313.5 82.6h0M319.9 82.1h0M324.4 81.4h0M184.8 84.4h0M188.6 84.7h0M191.8 85.0h0M199.2 84.4h0M202.0 84.4h0M205.6 83.9h0M208.3 84.0h0M215.3 84.7h0M218.6 85.0h0M221.7 84.5h0M224.1 83.9h0M228.2 85.2h0M231.4 84.8h0M234.2 84.1h0M237.9 84.0h0M241.1 84.0h0M244.8 84.7h0M246.6 85.1h0M250.1 84.0h0M254.3 84.4h0M257.4 84.2h0M259.8 85.1h0M264.2 84.6h0M266.7 84.6h0M269.8 84.0h0M272.8 84.2h0M276.5 84.3h0M279.5 85.3h0M282.3 85.2h0M285.6 84.9h0M289.4 85.0h0M292.5 84.9h0M295.8 85.2h0M299.6 84.7h0M302.6 85.0h0M306.4 84.7h0M309.5 84.7h0M312.7 84.3h0M315.9 85.3h0M318.6 85.0h0M322.2 84.1h0M183.9 87.1h0M187.3 87.4h0M189.9 88.1h0M193.5 88.1h0M197.7 87.9h0M200.9 87.8h0M203.5 87.5h0M207.4 88.2h0M210.4 86.8h0M213.1 87.1h0M215.7 88.0h0M219.5 86.8h0M222.4 88.2h0M225.7 87.8h0M229.5 87.1h0M233.3 88.1h0M236.6 87.1h0M239.1 87.1h0M242.5 87.1h0M245.6 87.6h0M249.3 87.2h0M251.8 88.2h0M255.0 87.3h0M258.1 87.7h0M261.5 87.2h0M265.9 86.9h0M269.0 87.9h0M271.3 87.0h0M274.9 87.8h0M278.3 86.8h0M280.8 88.1h0M284.5 87.0h0M288.2 88.0h0M291.6 87.0h0M295.2 87.4h0M297.8 87.2h0M300.3 87.7h0M304.7 86.8h0M307.2 87.8h0M313.9 87.2h0M317.6 87.6h0M320.4 87.7h0M324.0 88.2h0M185.0 90.3h0M188.3 90.0h0M191.9 90.1h0M195.6 90.7h0M198.1 90.1h0M201.3 90.6h0M204.7 89.9h0M208.8 89.9h0M214.7 89.8h0M217.4 90.6h0M220.7 90.1h0M224.4 90.5h0M227.5 89.9h0M231.6 90.8h0M234.6 90.1h0M236.9 90.7h0M241.2 90.9h0M244.6 91.0h0M247.6 90.9h0M253.5 90.3h0M256.9 90.9h0M260.2 89.8h0M263.1 90.1h0M266.9 90.5h0M269.4 90.3h0M273.9 90.5h0M276.3 89.6h0M280.5 90.2h0M282.8 89.6h0M285.7 90.8h0M289.0 89.9h0M295.8 90.1h0M298.7 91.0h0M303.3 89.8h0M306.4 90.2h0M308.7 90.6h0M312.8 91.0h0M315.2 90.6h0M319.0 90.2h0M322.3 90.9h0M184.1 93.6h0M187.6 93.0h0M190.8 92.7h0M193.9 92.8h0M196.2 93.4h0M206.5 92.6h0M210.5 93.3h0M213.8 93.8h0M217.1 93.3h0M226.9 92.7h0M229.8 93.8h0M232.3 93.6h0M239.0 93.6h0M241.9 92.6h0M245.5 93.2h0M252.3 92.8h0M256.2 92.6h0M258.3 93.3h0M262.0 92.5h0M265.9 93.4h0M268.6 93.3h0M271.4 93.2h0M275.3 92.6h0M278.8 93.0h0M281.1 92.9h0M284.7 92.6h0M287.5 92.7h0M291.5 93.1h0M293.7 92.7h0M297.9 92.7h0M301.2 92.5h0M304.2 92.8h0M306.9 93.1h0M310.2 93.0h0M314.5 93.2h0M317.5 93.1h0M320.1 93.0h0M323.8 93.1h0M184.9 96.6h0M188.9 95.7h0M191.6 96.6h0M195.3 95.6h0M198.2 96.1h0M202.4 96.6h0M204.5 95.6h0M208.2 96.5h0M211.0 95.8h0M214.4 95.9h0M218.0 95.8h0M221.6 95.9h0M225.0 96.3h0M227.4 96.3h0M231.2 96.1h0M234.6 95.6h0M238.2 96.6h0M240.1 95.9h0M247.6 96.3h0M250.0 96.0h0M253.4 96.3h0M256.7 95.9h0M263.6 96.0h0M267.3 95.6h0M270.2 96.4h0M273.2 95.7h0M277.2 95.3h0M279.3 96.3h0M283.1 96.1h0M286.4 96.1h0M289.2 95.9h0M292.2 96.4h0M296.4 95.6h0M300.0 95.3h0M302.9 95.6h0M305.7 96.2h0M309.3 95.5h0M311.7 96.2h0M315.1 95.2h0M319.3 96.6h0M184.3 98.3h0M189.8 98.7h0M193.8 98.2h0M197.3 98.6h0M200.4 98.5h0M203.2 98.3h0M206.5 98.1h0M209.6 99.4h0M212.6 98.8h0M217.1 99.1h0M219.7 99.2h0M222.9 99.2h0M229.4 99.1h0M232.0 99.0h0M239.8 98.8h0M242.8 98.3h0M245.0 99.4h0M252.1 98.8h0M255.8 99.5h0M258.8 98.2h0M261.3 98.5h0M265.6 98.3h0M268.9 98.2h0M272.3 99.1h0M274.6 98.4h0M278.9 99.2h0M281.1 99.0h0M284.3 98.2h0M287.7 98.4h0M291.4 99.2h0M294.2 98.3h0M298.4 98.3h0M300.7 98.2h0M304.3 98.1h0M308.1 98.6h0M311.4 99.1h0M313.9 99.2h0M316.7 98.5h0M320.1 99.4h0M324.1 98.4h0M186.3 101.7h0M189.3 100.9h0M191.5 102.1h0M195.8 101.7h0M198.5 102.1h0M202.4 100.9h0M205.1 101.8h0M209.0 101.9h0M212.1 101.4h0M214.5 101.0h0M218.2 101.8h0M221.2 101.5h0M224.2 102.2h0M227.5 101.2h0M230.7 101.5h0M234.3 101.0h0M237.0 101.8h0M240.5 102.2h0M244.7 101.2h0M247.7 101.0h0M251.2 101.8h0M257.1 102.2h0M261.0 101.3h0M264.0 101.5h0M267.1 101.3h0M269.4 102.3h0M273.5 101.0h0M275.9 101.6h0M280.3 101.6h0M282.8 101.5h0M285.6 101.0h0M289.1 102.1h0M292.4 101.6h0M295.6 101.9h0M305.7 101.8h0M309.7 101.4h0M312.9 101.2h0M315.4 101.6h0M318.7 101.1h0M322.6 102.2h0M183.7 104.2h0M187.6 105.0h0M190.6 103.7h0M196.6 104.2h0M200.9 104.8h0M203.2 103.8h0M207.3 104.4h0M210.6 105.0h0M213.7 103.9h0M216.0 104.6h0M219.5 104.8h0M223.4 104.7h0M225.5 104.1h0M228.8 103.7h0M232.0 105.1h0M239.3 105.0h0M242.1 105.1h0M245.1 104.8h0M248.9 104.7h0M252.7 103.7h0M255.7 105.1h0M258.9 104.6h0M261.8 104.7h0M265.9 104.4h0M268.0 104.7h0M271.4 104.2h0M274.4 105.0h0M281.9 104.8h0M284.3 103.6h0M288.2 105.1h0M291.7 104.2h0M295.2 104.0h0M297.1 103.7h0M300.4 104.8h0M303.8 103.8h0M308.0 104.6h0M310.6 104.9h0M314.7 104.2h0M317.7 104.5h0M320.1 104.3h0M323.9 104.6h0M185.3 107.5h0M188.2 107.3h0M191.3 106.7h0M195.1 107.6h0M198.7 106.5h0M201.5 107.2h0M204.3 107.7h0M208.2 106.8h0M211.2 107.6h0M215.2 107.8h0M218.1 107.0h0M221.8 107.1h0M224.2 107.0h0M230.5 107.2h0M234.6 107.0h0M237.0 107.4h0M243.7 107.4h0M247.7 107.5h0M251.0 107.2h0M253.6 106.6h0M256.5 107.0h0M260.9 107.6h0M263.1 106.5h0M266.7 107.4h0M270.4 107.5h0M275.9 107.8h0M279.5 107.0h0M282.8 107.6h0M285.7 107.2h0M289.0 106.9h0M293.3 106.5h0M296.1 106.5h0M299.1 107.3h0M302.0 106.9h0M306.2 106.7h0M308.9 106.5h0M312.1 106.7h0M316.0 107.0h0M319.0 107.5h0M322.3 107.6h0M184.6 110.4h0M186.6 109.7h0M190.6 109.6h0M193.0 110.6h0M197.6 110.1h0M199.8 109.7h0M206.7 109.4h0M210.2 110.5h0M212.5 109.8h0M216.1 110.7h0M219.9 109.7h0M223.5 110.3h0M226.3 109.4h0M228.9 109.6h0M232.9 110.2h0M236.3 109.4h0M238.9 110.4h0M242.0 110.3h0M246.2 109.5h0M251.7 110.6h0M255.4 109.4h0M258.0 110.2h0M262.1 109.4h0M265.1 109.3h0M271.8 109.3h0M274.4 110.2h0M277.7 110.0h0M281.0 109.5h0M284.8 110.6h0M287.3 110.7h0M291.7 110.7h0M294.9 110.4h0M297.9 110.5h0M300.2 110.1h0M304.8 109.4h0M307.4 110.1h0M310.2 110.3h0M313.7 110.2h0M316.7 110.7h0M321.2 110.7h0M324.0 110.2h0M184.9 112.9h0M188.7 112.1h0M192.2 113.5h0M194.9 112.5h0M198.4 113.4h0M201.5 113.5h0M204.6 113.2h0M208.6 112.2h0M212.0 112.5h0M215.2 113.2h0M218.0 113.5h0M221.2 112.3h0M224.5 113.2h0M227.5 112.7h0M231.7 113.5h0M233.9 113.0h0M238.1 112.5h0M240.9 112.5h0M244.1 112.5h0M247.0 112.9h0M250.0 112.5h0M257.6 113.4h0M259.9 112.3h0M263.9 113.4h0M266.3 112.7h0M270.4 113.4h0M274.0 113.1h0M276.5 113.1h0M280.4 112.5h0M282.8 112.9h0M286.0 112.8h0M289.8 113.0h0M292.2 112.7h0M296.6 113.0h0M299.0 112.3h0M302.2 113.1h0M306.4 112.8h0M309.3 113.4h0M312.1 113.4h0M315.5 113.3h0M318.4 113.0h0M321.9 112.1h0M184.5 115.8h0M191.2 115.3h0M193.2 115.9h0M196.3 116.4h0M200.2 115.3h0M203.0 115.1h0M207.4 115.2h0M209.3 116.3h0M212.7 116.0h0M216.4 116.1h0M220.2 115.2h0M223.6 116.0h0M226.9 115.5h0M229.9 116.0h0M232.4 116.1h0M235.4 115.2h0M238.5 115.0h0M242.4 115.0h0M245.6 116.1h0M249.6 114.9h0M251.9 115.5h0M255.3 115.3h0M258.7 115.8h0M261.5 115.8h0M268.2 115.7h0M272.4 116.0h0M275.1 115.4h0M281.5 116.3h0M284.3 115.9h0M287.4 115.7h0M294.4 115.4h0M297.7 115.5h0M301.6 115.1h0M304.9 116.0h0M308.2 116.3h0M310.2 115.9h0M314.2 115.6h0M317.3 116.0h0M320.8 114.9h0M323.9 115.3h0M185.5 118.8h0M189.1 118.7h0M192.5 118.0h0M195.0 118.8h0M199.0 118.5h0M204.5 118.1h0M208.8 118.5h0M211.2 118.6h0M215.2 118.6h0M218.1 117.8h0M220.9 119.0h0M224.8 118.1h0M227.3 119.0h0M230.7 118.3h0M234.7 119.0h0M240.7 119.2h0M244.1 118.4h0M247.9 118.3h0M251.3 118.7h0M253.6 118.4h0M260.0 119.1h0M262.9 119.2h0M267.0 118.4h0M270.1 118.2h0M272.8 118.6h0M279.5 118.0h0M282.5 118.2h0M289.0 119.0h0M292.6 119.0h0M296.4 117.8h0M298.8 119.0h0M302.9 118.8h0M305.4 118.5h0M308.4 117.8h0M311.7 118.0h0M316.0 117.7h0M318.2 118.0h0M322.2 118.5h0M184.3 121.3h0M186.8 121.2h0M191.0 121.0h0M193.3 120.8h0M197.7 121.8h0M203.8 121.7h0M206.0 120.7h0M209.6 121.5h0M213.1 120.6h0M216.5 121.3h0M220.0 121.3h0M223.0 120.9h0M226.1 120.6h0M229.9 121.2h0M232.3 121.2h0M236.0 121.6h0M239.1 120.6h0M243.1 121.7h0M246.4 121.8h0M248.8 121.4h0M251.8 121.2h0M254.9 120.5h0M258.1 121.0h0M261.8 121.6h0M265.2 120.6h0M269.2 121.4h0M271.6 121.2h0M277.6 121.6h0M281.3 121.1h0M284.7 121.5h0M288.5 122.0h0M291.8 121.5h0M294.3 121.0h0M300.7 121.5h0M304.2 121.5h0M310.8 121.5h0M314.0 121.0h0M317.4 121.8h0M320.9 121.9h0M323.1 121.2h0M185.3 123.5h0M188.3 124.3h0M191.3 124.8h0M195.6 123.5h0M199.2 123.6h0M201.8 124.1h0M204.7 123.4h0M209.0 124.5h0M212.0 124.4h0M215.0 123.8h0M217.3 123.5h0M221.4 124.2h0M224.5 123.8h0M227.2 123.9h0M231.6 123.4h0M234.3 123.4h0M237.6 124.6h0M241.1 123.7h0M244.1 123.5h0M246.6 123.5h0M251.3 124.4h0M254.0 124.6h0M256.4 124.5h0M260.8 123.7h0M264.0 124.6h0M267.4 124.4h0M269.8 123.7h0M272.9 123.5h0M276.1 124.5h0M279.2 124.3h0M282.4 124.6h0M286.6 124.6h0M288.9 124.7h0M293.1 123.9h0M295.5 123.9h0M298.7 124.1h0M301.8 123.8h0M306.4 124.4h0M309.0 123.9h0M312.0 124.8h0M316.2 124.3h0M318.9 123.7h0M184.4 127.5h0M186.6 126.9h0M190.9 126.3h0M194.3 127.3h0M197.1 126.8h0M199.8 126.6h0M203.6 127.0h0M207.0 126.2h0M209.3 127.6h0M213.2 126.4h0M217.2 126.7h0M219.6 126.3h0M222.6 127.6h0M225.8 126.7h0M229.2 127.6h0M233.2 127.6h0M236.1 127.0h0M239.2 126.2h0M242.7 127.2h0M246.4 126.4h0M248.9 126.9h0M252.7 126.7h0M256.0 126.6h0M259.4 127.1h0M261.6 127.3h0M264.7 127.6h0M267.8 126.7h0M272.2 127.5h0M274.3 127.4h0M277.5 126.8h0M281.7 127.1h0M285.1 127.4h0M288.3 127.2h0M291.8 127.4h0M294.1 126.8h0M298.0 126.9h0M301.7 127.1h0M304.0 127.2h0M308.0 126.3h0M310.0 127.4h0M314.0 127.7h0M317.0 127.0h0M320.8 127.4h0M323.7 127.0h0M185.5 129.8h0M188.7 129.2h0M191.9 130.0h0M194.9 130.4h0M199.1 129.8h0M201.2 130.3h0M205.6 129.7h0M208.2 130.3h0M211.3 130.0h0M215.0 129.4h0M217.4 129.7h0M221.7 129.1h0M224.5 130.0h0M227.9 129.5h0M231.8 129.2h0M234.4 130.0h0M237.2 130.3h0M241.5 129.8h0M244.7 129.9h0M247.5 129.8h0M250.1 129.5h0M253.4 130.3h0M256.6 129.8h0M260.5 130.4h0M264.3 130.5h0M267.5 129.4h0M270.1 129.6h0M273.6 130.0h0M277.2 129.6h0M279.7 129.3h0M282.4 129.1h0M286.6 129.9h0M289.2 129.3h0M292.6 129.5h0M296.0 129.0h0M299.5 129.4h0M302.5 129.0h0M306.5 129.5h0M309.8 130.2h0M311.6 129.3h0M316.3 129.5h0M322.7 129.2h0M184.7 132.4h0M187.4 133.2h0M191.1 132.9h0M193.0 132.4h0M197.5 132.2h0M200.7 132.2h0M203.9 132.8h0M209.5 132.4h0M212.9 131.8h0M216.6 132.2h0M219.5 133.1h0M223.3 132.2h0M226.5 132.5h0M230.0 132.7h0M233.0 132.1h0M235.9 132.6h0M239.4 133.0h0M242.9 132.3h0M245.0 132.3h0M248.3 132.2h0M255.7 132.5h0M259.4 132.8h0M262.5 133.0h0M265.0 132.7h0M268.3 132.4h0M271.4 132.8h0M274.4 133.1h0M278.5 132.6h0M281.0 132.0h0M284.1 132.1h0M287.8 132.1h0M291.4 132.2h0M295.0 132.6h0M297.2 132.7h0M300.2 132.0h0M306.8 133.3h0M310.8 132.3h0M313.3 132.6h0M316.9 132.3h0M320.9 133.0h0M324.1 132.5h0M186.3 134.6h0M188.1 134.9h0M191.4 135.4h0M195.0 136.0h0M199.0 135.1h0M202.1 136.0h0M204.5 135.8h0M207.9 135.5h0M211.8 135.2h0M214.6 134.8h0M218.7 135.1h0M221.2 135.5h0M224.3 135.5h0M227.8 134.8h0M231.5 134.8h0M235.0 134.9h0M237.3 135.4h0M241.3 135.1h0M244.2 135.8h0M247.0 135.2h0M250.9 135.5h0M253.7 134.6h0M257.8 135.8h0M260.7 136.1h0M264.2 134.7h0M266.8 135.2h0M269.4 134.8h0M273.7 136.0h0M276.8 134.8h0M280.4 135.6h0M283.5 135.7h0M285.7 134.9h0M288.9 135.4h0M293.4 135.4h0M295.4 134.7h0M303.2 135.9h0M305.2 136.1h0M309.0 136.0h0M311.6 136.0h0M315.8 135.1h0M319.3 135.7h0M322.7 135.3h0M184.0 138.6h0M187.2 138.3h0M191.1 137.7h0M194.0 138.2h0M196.5 138.2h0M199.8 138.5h0M203.7 138.7h0M207.0 138.3h0M210.5 137.9h0M213.6 137.8h0M216.9 138.2h0M219.8 138.5h0M223.5 138.3h0M225.8 138.3h0M228.9 138.8h0M233.2 138.7h0M235.9 138.1h0M238.7 137.5h0M243.0 138.1h0M249.6 137.8h0M252.6 137.5h0M255.7 137.5h0M259.0 138.7h0M261.3 137.4h0M265.6 138.0h0M268.8 138.6h0M271.9 138.0h0M274.8 138.8h0M278.0 137.8h0M281.9 138.6h0M284.4 138.5h0M288.7 137.5h0M291.4 138.0h0M294.3 138.7h0M298.3 138.7h0M300.8 137.6h0M308.1 138.7h0M310.1 137.7h0M313.9 137.7h0M316.8 138.2h0M319.9 138.9h0M323.9 137.7h0M184.9 140.3h0M188.2 141.0h0M192.3 141.7h0M195.3 140.4h0M199.1 141.3h0M201.8 141.0h0M204.5 141.1h0M211.7 141.4h0M214.8 141.7h0M217.8 140.8h0M220.6 140.9h0M224.9 141.6h0M228.0 140.9h0M230.9 140.4h0M233.9 140.6h0M237.2 141.1h0M240.8 140.6h0M244.6 141.1h0M247.2 140.8h0M250.9 141.2h0M254.0 140.3h0M257.4 141.0h0M260.6 140.6h0M263.5 141.1h0M267.0 141.6h0M269.7 140.9h0M276.5 140.8h0M279.8 140.7h0M283.6 140.8h0M286.6 141.2h0M289.2 140.5h0M293.0 140.9h0M296.4 140.3h0M298.6 140.6h0M302.4 141.7h0M306.2 140.7h0M309.4 140.4h0M312.0 140.4h0M315.7 141.3h0M318.4 141.1h0M183.5 143.2h0M187.6 143.5h0M190.9 143.3h0M194.3 144.0h0M196.7 143.7h0M200.9 143.2h0M203.6 144.2h0M206.7 143.3h0M209.7 144.4h0M212.5 144.4h0M216.2 143.8h0M219.4 144.5h0M222.5 143.2h0M226.3 143.3h0M229.6 143.2h0M232.6 143.2h0M236.5 143.2h0M238.5 144.4h0M242.4 143.1h0M245.9 143.9h0M248.6 143.8h0M252.2 143.4h0M259.1 143.3h0M262.1 143.2h0M264.8 144.4h0M271.7 143.9h0M274.2 143.6h0M278.9 143.7h0M284.0 143.0h0M288.2 144.5h0M290.7 144.5h0M294.9 144.5h0M298.3 143.6h0M300.3 143.1h0M304.1 143.2h0M306.7 144.4h0M311.2 143.6h0M313.4 144.0h0M316.6 144.5h0M320.8 143.2h0M323.3 144.4h0M185.0 146.2h0M189.3 146.5h0M191.4 147.2h0M195.8 146.5h0M198.3 146.2h0M202.0 146.5h0M204.9 146.1h0M208.5 146.7h0M211.6 146.8h0M214.3 147.3h0M217.5 146.4h0M220.8 147.2h0M225.0 146.2h0M228.0 147.0h0M234.8 146.2h0M238.2 146.3h0M241.5 145.9h0M243.7 146.2h0M248.0 147.1h0M250.8 146.9h0M257.4 146.4h0M259.8 146.8h0M263.5 146.6h0M266.8 147.0h0M270.5 146.4h0M273.2 147.4h0M280.6 147.1h0M285.9 146.7h0M290.0 146.5h0M292.4 146.4h0M296.5 147.0h0M298.9 146.5h0M303.3 146.1h0M305.5 145.9h0M309.4 146.9h0M312.5 145.9h0M315.6 146.7h0M318.5 146.3h0M321.6 146.2h0" stroke="#fff" stroke-opacity="0.72" stroke-width="1.9" stroke-linecap="round" fill="none"/><rect x="187.1" y="8.7" width="134" height="135.1" fill="url(#gb)"/></g>
<g filter="url(#fc)"><g clip-path="url(#cc)"><rect x="368.7" y="8.3" width="134.5" height="135" fill="#525252"/><path d="M452.5 108.6h0M475.6 135.7h0M468.1 133.0h0M372.9 71.4h0M495.4 96.1h0M489.7 23.8h0M431.9 41.8h0M441.9 86.0h0M370.8 37.8h0M406.5 132.2h0M471.6 30.0h0M475.8 27.2h0M451.7 25.6h0M369.2 126.1h0M397.1 37.6h0M500.6 126.3h0M407.8 138.3h0M441.3 100.0h0M396.4 135.5h0M461.5 139.0h0M488.8 48.8h0M417.4 30.9h0M388.5 17.3h0M409.4 89.9h0M369.5 100.0h0M414.3 50.3h0M478.7 73.4h0M411.3 73.5h0M463.4 16.2h0M499.7 11.6h0M469.5 122.6h0M371.4 114.8h0M418.1 86.6h0M370.2 14.8h0M393.2 137.4h0M395.3 110.5h0M493.6 135.7h0M415.1 56.4h0M439.3 113.2h0M383.5 109.5h0M475.8 124.6h0M373.9 136.2h0M381.2 54.5h0M450.9 132.4h0M414.6 133.3h0M442.0 50.7h0M411.5 32.5h0M379.5 28.6h0M461.3 143.1h0M390.6 15.1h0M501.2 80.5h0M423.4 40.5h0M448.6 120.0h0M430.1 65.4h0M376.5 132.2h0M373.4 75.1h0M481.3 26.1h0M467.0 136.7h0M453.5 114.9h0M383.3 67.2h0M389.0 122.5h0M408.5 69.7h0M502.9 123.6h0M499.8 69.7h0M434.4 107.0h0M433.2 47.8h0M423.1 28.3h0M419.5 141.9h0M497.6 93.1h0M435.9 54.2h0M380.9 45.3h0M473.8 125.6h0M417.4 114.6h0M472.8 102.3h0M458.0 111.1h0M417.7 103.6h0M406.6 74.1h0M472.1 101.8h0M408.4 136.1h0M456.1 86.9h0M370.6 82.3h0M402.6 99.2h0M431.0 118.8h0M455.8 116.2h0M415.6 95.4h0M467.9 120.3h0M415.9 122.3h0M485.6 101.4h0M499.8 137.6h0M438.4 80.0h0M391.3 121.4h0M494.6 72.9h0M461.7 105.7h0M466.9 31.7h0M473.6 86.9h0M458.2 65.3h0M452.6 113.1h0M454.3 105.8h0M372.7 30.1h0M428.1 96.3h0M398.4 101.1h0M453.5 14.2h0M432.2 39.0h0M376.3 26.5h0M411.5 33.0h0M394.9 13.3h0M431.4 59.8h0M451.0 88.2h0M400.9 130.4h0M369.1 63.2h0M406.3 63.9h0M384.4 120.7h0M419.1 13.4h0M451.2 21.3h0M442.1 54.3h0M446.8 137.9h0M478.7 65.1h0M477.9 95.2h0M418.5 27.7h0M448.9 84.6h0M497.3 139.2h0M450.6 55.9h0M488.7 8.6h0M383.5 84.9h0M451.4 27.5h0M453.3 128.8h0M419.4 66.8h0M399.3 47.9h0M499.3 59.8h0M497.8 131.9h0M448.8 43.6h0M500.5 75.5h0M424.7 51.6h0M500.9 74.9h0M407.4 72.9h0M385.3 92.4h0M428.4 48.1h0M473.7 120.1h0M370.8 80.4h0M405.7 134.8h0M473.8 41.7h0M404.9 29.4h0M501.5 48.1h0M450.5 72.6h0M455.4 90.0h0M468.6 24.5h0M470.9 49.1h0M440.5 53.9h0M408.8 80.0h0M431.2 57.2h0M468.8 88.3h0M373.9 42.6h0M430.1 132.2h0M488.0 82.2h0M371.0 113.6h0M426.3 86.2h0M463.9 93.9h0M433.6 131.6h0M420.7 61.4h0M483.2 35.0h0M408.7 120.6h0M377.9 121.4h0M462.1 66.9h0M407.4 113.9h0M491.0 27.8h0M433.1 82.6h0M435.7 53.1h0M389.6 87.6h0M477.8 17.7h0M399.8 119.1h0M475.1 98.1h0M372.4 106.1h0M500.1 143.3h0M463.0 15.1h0M481.8 38.1h0M455.5 137.1h0M464.5 26.7h0M408.2 132.4h0M389.1 90.9h0M424.5 30.3h0M452.4 14.4h0M383.5 59.7h0M378.6 16.3h0M446.1 108.7h0M486.7 26.6h0M426.8 51.0h0M449.4 74.6h0M494.8 59.0h0M376.5 102.6h0M389.2 93.7h0M436.8 131.4h0M443.4 92.3h0M404.3 83.0h0M403.1 109.8h0M438.3 26.6h0M400.4 58.6h0M467.7 32.7h0M464.6 96.9h0M380.4 98.7h0M381.2 25.3h0M448.6 40.7h0M486.5 73.4h0M412.3 116.0h0M372.9 106.4h0M376.2 28.9h0M496.6 100.5h0M398.9 24.2h0M499.3 98.3h0M479.0 27.4h0M452.7 56.3h0M400.5 53.5h0M451.2 55.6h0M420.7 26.9h0M480.4 96.0h0M476.8 67.0h0M483.1 78.4h0M448.4 85.9h0M468.2 61.9h0M382.0 13.0h0M396.1 13.8h0M488.2 73.4h0M470.9 8.6h0M432.0 128.6h0M452.0 66.4h0M431.4 22.0h0M389.7 30.0h0M419.2 60.6h0M487.0 29.0h0M403.0 46.0h0M390.6 47.3h0M400.5 73.6h0M373.3 133.3h0M418.4 135.1h0M461.2 99.5h0M432.2 136.1h0M384.8 98.8h0M408.0 99.6h0M466.7 30.5h0M395.9 11.9h0M399.9 19.1h0M422.7 139.9h0M417.8 50.6h0M431.7 46.7h0M467.1 105.4h0M390.9 41.0h0M459.1 135.5h0M455.5 66.6h0M499.7 9.3h0M377.2 113.7h0M424.0 14.6h0M442.5 142.1h0M438.5 55.8h0M381.6 18.1h0M489.4 74.8h0M494.4 15.8h0M401.6 15.3h0M422.2 16.6h0M403.2 63.5h0M410.0 15.4h0M374.0 139.7h0M393.0 77.2h0M422.9 80.2h0M380.3 50.9h0M383.5 81.7h0M492.5 89.3h0M483.8 37.4h0M371.3 81.4h0M434.2 85.6h0M419.5 92.9h0M466.2 131.8h0M410.2 69.1h0M479.7 38.7h0M384.5 50.6h0M380.7 112.8h0M478.8 50.7h0M386.4 19.6h0M401.8 19.9h0M426.4 86.4h0M401.9 16.8h0M462.9 15.0h0M395.8 47.1h0M419.1 21.8h0M425.4 50.9h0M469.8 83.6h0M489.1 96.8h0M470.8 86.1h0M428.3 118.8h0M456.8 137.4h0M466.6 103.2h0M404.9 118.1h0M420.2 26.1h0M377.8 31.4h0M404.2 99.7h0M407.3 17.1h0M471.3 83.7h0M372.7 15.3h0M386.4 56.7h0M484.2 136.6h0M451.0 39.7h0M426.5 57.4h0M413.3 10.2h0M447.3 120.1h0M466.4 21.4h0M440.1 31.6h0M464.1 68.7h0M494.8 115.8h0M384.8 51.3h0M491.6 70.7h0M427.2 68.1h0M471.8 134.9h0M440.4 139.4h0M448.9 22.5h0M478.1 65.1h0M376.0 140.5h0M373.4 86.4h0M433.6 127.5h0M421.6 37.6h0M406.1 35.7h0M444.4 56.7h0M469.6 41.1h0M416.1 42.0h0M500.6 121.9h0M482.9 92.0h0M422.7 27.8h0M480.4 74.7h0M374.1 31.4h0M382.2 105.4h0M489.6 35.4h0M475.8 52.2h0M460.5 125.0h0M452.5 116.6h0M419.4 9.9h0M437.6 87.7h0M393.8 61.0h0M411.5 12.2h0M410.8 60.2h0M432.8 103.5h0M422.5 141.1h0M478.3 133.2h0M461.8 99.0h0M440.9 116.3h0M417.6 88.6h0M460.0 79.0h0M407.1 19.0h0M380.7 56.5h0M446.8 111.0h0M464.7 49.9h0M493.5 45.6h0M465.0 18.2h0M470.0 98.9h0M497.2 129.6h0M461.1 121.7h0M468.0 91.0h0M397.0 78.3h0M489.1 40.8h0M499.6 81.9h0M421.7 8.9h0M421.3 32.5h0M456.5 129.9h0M491.0 91.3h0M420.8 23.2h0M461.3 83.2h0M464.8 59.0h0M487.8 37.2h0M409.9 44.6h0M452.4 129.6h0M391.4 93.9h0M471.7 38.8h0M377.4 84.9h0M480.3 127.1h0M466.6 64.8h0M426.0 79.9h0M490.2 49.3h0M406.6 90.2h0M498.5 33.8h0M373.1 24.1h0M444.4 90.0h0M393.6 34.2h0M448.7 95.8h0M461.5 106.9h0M377.2 73.9h0M480.8 137.7h0M411.7 123.3h0M455.5 133.6h0M399.7 102.6h0M481.7 72.9h0M382.5 34.6h0M390.0 21.0h0M389.4 91.6h0M383.1 110.8h0M467.7 118.7h0M476.7 104.8h0M492.8 137.7h0M452.8 138.8h0M382.8 22.4h0M377.6 36.4h0M419.2 70.4h0M460.2 108.8h0M380.2 62.9h0M441.8 59.1h0M384.8 89.1h0M419.2 100.8h0M435.4 138.5h0M495.6 18.2h0M470.8 105.9h0M408.7 24.3h0M433.2 56.3h0M467.8 132.5h0M420.2 47.7h0M435.8 102.6h0M474.7 86.2h0M408.7 54.0h0M482.6 78.6h0M375.8 65.3h0M400.9 98.4h0M378.8 45.1h0M381.9 73.0h0M500.9 81.6h0M420.8 134.6h0M381.3 56.5h0" stroke="#fff" stroke-opacity="0.22" stroke-width="1.9" stroke-linecap="round" fill="none"/><path d="M477.6 9.2h0M471.6 57.2h0M371.2 42.4h0M430.4 60.2h0M438.2 15.7h0M398.3 140.0h0M428.3 72.2h0M380.4 46.2h0M496.9 101.3h0M437.0 15.7h0M421.6 113.6h0M427.2 88.6h0M489.9 95.6h0M454.2 13.4h0M372.2 112.4h0M424.4 126.5h0M479.6 132.1h0M419.7 143.4h0M470.3 128.9h0M388.9 113.9h0M425.6 139.7h0M502.2 37.8h0M425.5 45.1h0M432.0 47.2h0M458.3 25.2h0M391.7 70.3h0M378.9 60.0h0M489.3 128.0h0M395.3 11.0h0M480.0 138.2h0M449.3 26.9h0M400.7 132.7h0M494.6 12.7h0M393.8 66.4h0M404.7 110.3h0M419.0 113.2h0M389.4 78.5h0M499.6 103.3h0M381.1 23.5h0M455.2 59.1h0M418.4 73.0h0M446.9 138.9h0M401.3 85.3h0M404.3 82.1h0M467.0 26.5h0M433.5 103.8h0M370.1 112.6h0M425.1 76.6h0M450.8 115.5h0M376.5 76.1h0M374.1 60.5h0M415.3 11.4h0M408.9 69.3h0M456.8 133.3h0M418.6 80.1h0M464.6 135.0h0M496.3 141.9h0M409.4 31.0h0M493.9 18.9h0M429.1 107.9h0M439.9 61.0h0M492.9 48.9h0M442.9 120.5h0M387.5 55.9h0M435.2 84.9h0M396.8 69.8h0M377.0 20.4h0M414.8 27.9h0M498.6 44.0h0M405.9 114.3h0M468.3 43.9h0M480.1 93.0h0M421.1 93.4h0M401.9 44.1h0M486.5 67.7h0M489.2 32.4h0M387.4 15.5h0M468.1 84.3h0M370.3 14.3h0M479.4 75.2h0M485.8 13.9h0M447.9 24.4h0M465.6 91.0h0M451.0 38.4h0M496.2 23.5h0M377.6 100.8h0M381.4 17.5h0M430.7 96.1h0M488.5 105.8h0M378.3 95.3h0M482.0 24.8h0M470.1 43.4h0M409.0 8.7h0M470.6 78.1h0M489.9 71.3h0M389.8 37.7h0M404.3 136.3h0M396.5 20.4h0M416.3 19.2h0M426.0 92.4h0M456.2 32.1h0M387.6 74.8h0M461.1 68.9h0M445.8 131.6h0M388.4 44.7h0M435.2 80.9h0M489.6 83.5h0M457.8 65.1h0M474.1 121.4h0M408.3 23.1h0M403.7 56.8h0M488.2 44.2h0M453.3 95.0h0M497.1 24.2h0M472.2 53.9h0M382.8 93.8h0M482.1 87.1h0M375.7 139.7h0M420.5 94.4h0M466.0 43.7h0M423.7 53.0h0M381.9 17.2h0M465.1 63.9h0M485.5 17.0h0M409.4 32.8h0M495.4 115.2h0M489.1 76.9h0M383.0 64.7h0M399.3 12.1h0M444.7 47.6h0" stroke="#fff" stroke-opacity="0.38" stroke-width="2" stroke-linecap="round" fill="none"/><circle cx="382.5" cy="12.1" r="1.45" fill="#fff" fill-opacity="0.95"/><circle cx="425.7" cy="10.8" r="1.2" fill="#fff" fill-opacity="0.7"/><circle cx="387.6" cy="30.3" r="1.2" fill="#fff" fill-opacity="0.7"/><circle cx="397.8" cy="24.8" r="1.2" fill="#fff" fill-opacity="0.7"/><circle cx="415.5" cy="30.7" r="1.45" fill="#fff" fill-opacity="0.95"/><circle cx="422" cy="35.9" r="1.2" fill="#fff" fill-opacity="0.7"/><circle cx="406.2" cy="34.1" r="1.2" fill="#fff" fill-opacity="0.7"/><circle cx="407.5" cy="43.4" r="1.2" fill="#fff" fill-opacity="0.7"/><circle cx="427.2" cy="43.4" r="1.2" fill="#fff" fill-opacity="0.7"/><circle cx="432.2" cy="47.1" r="1.45" fill="#fff" fill-opacity="0.95"/><circle cx="376.9" cy="45.2" r="1.2" fill="#fff" fill-opacity="0.7"/><circle cx="381" cy="46.2" r="1.2" fill="#fff" fill-opacity="0.7"/><circle cx="413.6" cy="52.7" r="1.45" fill="#fff" fill-opacity="0.95"/><circle cx="369.9" cy="53.6" r="1.2" fill="#fff" fill-opacity="0.7"/><circle cx="375.4" cy="60.1" r="1.2" fill="#fff" fill-opacity="0.7"/><circle cx="391.8" cy="60.1" r="1.2" fill="#fff" fill-opacity="0.7"/><circle cx="398.2" cy="63.9" r="1.45" fill="#fff" fill-opacity="0.95"/><circle cx="410.8" cy="62" r="1.2" fill="#fff" fill-opacity="0.7"/><circle cx="422" cy="54.6" r="1.2" fill="#fff" fill-opacity="0.7"/><circle cx="405.2" cy="74.1" r="1.2" fill="#fff" fill-opacity="0.7"/><circle cx="370.8" cy="71.3" r="1.2" fill="#fff" fill-opacity="0.7"/><circle cx="447.2" cy="12.7" r="1.2" fill="#fff" fill-opacity="0.7"/><circle cx="488.1" cy="13.2" r="1.2" fill="#fff" fill-opacity="0.7"/><circle cx="487.2" cy="16.4" r="1.2" fill="#fff" fill-opacity="0.7"/><circle cx="444.4" cy="23.8" r="1.45" fill="#fff" fill-opacity="0.95"/><circle cx="472.9" cy="24.4" r="1.2" fill="#fff" fill-opacity="0.7"/><circle cx="451.8" cy="32.2" r="1.2" fill="#fff" fill-opacity="0.7"/><circle cx="485.9" cy="36.9" r="1.45" fill="#fff" fill-opacity="0.95"/><circle cx="471.8" cy="41.5" r="1.45" fill="#fff" fill-opacity="0.95"/><circle cx="464.9" cy="45.2" r="1.2" fill="#fff" fill-opacity="0.7"/><circle cx="444.4" cy="46.2" r="1.2" fill="#fff" fill-opacity="0.7"/><circle cx="500.2" cy="48" r="1.45" fill="#fff" fill-opacity="0.95"/><circle cx="469.5" cy="54.6" r="1.2" fill="#fff" fill-opacity="0.7"/><circle cx="452.4" cy="56.8" r="1.2" fill="#fff" fill-opacity="0.7"/><circle cx="480.7" cy="59.2" r="1.2" fill="#fff" fill-opacity="0.7"/><circle cx="483.5" cy="67.6" r="1.2" fill="#fff" fill-opacity="0.7"/><circle cx="447.2" cy="74.1" r="1.2" fill="#fff" fill-opacity="0.7"/><circle cx="491.9" cy="41.5" r="1.2" fill="#fff" fill-opacity="0.7"/><circle cx="460.2" cy="13.6" r="1.2" fill="#fff" fill-opacity="0.7"/><circle cx="396.9" cy="77.9" r="1.2" fill="#fff" fill-opacity="0.7"/><circle cx="409.9" cy="80.1" r="1.2" fill="#fff" fill-opacity="0.7"/><circle cx="379.2" cy="83.4" r="1.2" fill="#fff" fill-opacity="0.7"/><circle cx="433.2" cy="82.5" r="1.2" fill="#fff" fill-opacity="0.7"/><circle cx="396.9" cy="90" r="1.2" fill="#fff" fill-opacity="0.7"/><circle cx="406.2" cy="93.1" r="1.45" fill="#fff" fill-opacity="0.95"/><circle cx="395.9" cy="98" r="1.2" fill="#fff" fill-opacity="0.7"/><circle cx="409.9" cy="96.5" r="1.2" fill="#fff" fill-opacity="0.7"/><circle cx="371.4" cy="103" r="1.45" fill="#fff" fill-opacity="0.95"/><circle cx="422.9" cy="100.6" r="1.2" fill="#fff" fill-opacity="0.7"/><circle cx="430.4" cy="108.6" r="1.2" fill="#fff" fill-opacity="0.7"/><circle cx="394.6" cy="112.3" r="1.45" fill="#fff" fill-opacity="0.95"/><circle cx="413.6" cy="114.7" r="1.2" fill="#fff" fill-opacity="0.7"/><circle cx="429.1" cy="119.8" r="1.45" fill="#fff" fill-opacity="0.95"/><circle cx="388.9" cy="119.8" r="1.2" fill="#fff" fill-opacity="0.7"/><circle cx="380.7" cy="124" r="1.45" fill="#fff" fill-opacity="0.95"/><circle cx="413.6" cy="122.6" r="1.2" fill="#fff" fill-opacity="0.7"/><circle cx="393.1" cy="130" r="1.2" fill="#fff" fill-opacity="0.7"/><circle cx="428.5" cy="130.9" r="1.2" fill="#fff" fill-opacity="0.7"/><circle cx="402.5" cy="137.5" r="1.45" fill="#fff" fill-opacity="0.95"/><circle cx="423.9" cy="141.2" r="1.2" fill="#fff" fill-opacity="0.7"/><circle cx="468.6" cy="78.2" r="1.45" fill="#fff" fill-opacity="0.95"/><circle cx="447.5" cy="80.7" r="1.2" fill="#fff" fill-opacity="0.7"/><circle cx="438.8" cy="83.4" r="1.45" fill="#fff" fill-opacity="0.95"/><circle cx="482.2" cy="82.5" r="1.2" fill="#fff" fill-opacity="0.7"/><circle cx="465.8" cy="86.2" r="1.2" fill="#fff" fill-opacity="0.7"/><circle cx="437.9" cy="90" r="1.45" fill="#fff" fill-opacity="0.95"/><circle cx="456.1" cy="88.7" r="1.2" fill="#fff" fill-opacity="0.7"/><circle cx="501.2" cy="88.1" r="1.2" fill="#fff" fill-opacity="0.7"/><circle cx="476" cy="96.5" r="1.45" fill="#fff" fill-opacity="0.95"/><circle cx="481.3" cy="96.9" r="1.45" fill="#fff" fill-opacity="0.95"/><circle cx="486.3" cy="95.6" r="1.2" fill="#fff" fill-opacity="0.7"/><circle cx="458.3" cy="98" r="1.2" fill="#fff" fill-opacity="0.7"/><circle cx="455.6" cy="103.9" r="1.2" fill="#fff" fill-opacity="0.7"/><circle cx="466.7" cy="105.4" r="1.2" fill="#fff" fill-opacity="0.7"/><circle cx="473.2" cy="103.9" r="1.2" fill="#fff" fill-opacity="0.7"/><circle cx="476" cy="110.1" r="1.45" fill="#fff" fill-opacity="0.95"/><circle cx="472.3" cy="114.2" r="1.2" fill="#fff" fill-opacity="0.7"/><circle cx="452.8" cy="115.1" r="1.2" fill="#fff" fill-opacity="0.7"/><circle cx="438.2" cy="116" r="1.45" fill="#fff" fill-opacity="0.95"/><circle cx="461.1" cy="118.5" r="1.2" fill="#fff" fill-opacity="0.7"/><circle cx="468.6" cy="118.5" r="1.2" fill="#fff" fill-opacity="0.7"/><circle cx="459.8" cy="122.2" r="1.45" fill="#fff" fill-opacity="0.95"/><circle cx="499.3" cy="119.8" r="1.45" fill="#fff" fill-opacity="0.95"/><circle cx="436.9" cy="126.3" r="1.45" fill="#fff" fill-opacity="0.95"/><circle cx="453.7" cy="129.1" r="1.2" fill="#fff" fill-opacity="0.7"/><circle cx="461.1" cy="131.5" r="1.2" fill="#fff" fill-opacity="0.7"/><circle cx="464.9" cy="131.9" r="1.2" fill="#fff" fill-opacity="0.7"/><circle cx="454.6" cy="135.6" r="1.2" fill="#fff" fill-opacity="0.7"/></g></g>
<ellipse cx="318.9" cy="139.4" rx="1.8" ry="1.3" fill="#fff"/>
<g fill="#dcdcdc"><rect x="8" y="142.8" width="134.5" height="1.4"/><rect x="187.1" y="143.8" width="134" height="1.5"/><rect x="368.7" y="143.3" width="134.5" height="1.5"/></g>
<!-- colorbars -->
<rect x="162.4" y="44.3" width="8" height="64" fill="url(#cb)"/>
<rect x="341" y="46" width="8.3" height="63.4" fill="url(#cb)"/>
<rect x="523.8" y="45.8" width="8" height="63" fill="url(#cb)"/>
<g class="sans">
<text x="152.7" y="39.7">7.6 nm</text><text x="151.4" y="116.8">-6.9 nm</text>
<text x="329.8" y="40.2">10.2 nm</text><text x="329.8" y="117.2">-7.5 nm</text>
<text x="513.6" y="40.2">7.3 nm</text><text x="512.5" y="116.5">-4.9 nm</text>
<text x="8.5" y="152.2">0.0</text><text x="51" y="152.2" font-size="7.85">Height Sensor</text><text x="117.4" y="152.2">2.0 um</text>
<text x="186.9" y="153.4">0.0</text><text x="229" y="153.4" font-size="7.85">Height Sensor</text><text x="296" y="153.4">2.0 um</text>
<text x="369.5" y="153">0.0</text><text x="411.8" y="153" font-size="7.85">Height Sensor</text><text x="478.6" y="153">2.0 um</text>
</g>
<g class="serif" font-size="13.2" style="fill:#fff">
<text x="13.6" y="23">(a)</text><text x="192.4" y="23">(b)</text><text x="373.8" y="23.3">(c)</text>
</g>
<!-- plot -->
<g stroke="#cdcdcd" stroke-width="0.7" stroke-dasharray="2.4 1.2" fill="none"><line x1="210.7" y1="161.5" x2="210.7" y2="330"/><line x1="249.2" y1="161.5" x2="249.2" y2="330"/><line x1="287.7" y1="161.5" x2="287.7" y2="330"/><line x1="326.1" y1="161.5" x2="326.1" y2="330"/><line x1="364.6" y1="161.5" x2="364.6" y2="330"/><line x1="191.5" y1="324.0" x2="402.5" y2="324.0"/><line x1="191.5" y1="287.6" x2="402.5" y2="287.6"/><line x1="191.5" y1="251.3" x2="402.5" y2="251.3"/><line x1="191.5" y1="214.9" x2="402.5" y2="214.9"/><line x1="191.5" y1="178.6" x2="402.5" y2="178.6"/></g>
<g stroke="#dedede" stroke-width="0.7" stroke-dasharray="1 1" fill="none"><line x1="229.9" y1="161.5" x2="229.9" y2="330"/><line x1="268.4" y1="161.5" x2="268.4" y2="330"/><line x1="306.9" y1="161.5" x2="306.9" y2="330"/><line x1="345.4" y1="161.5" x2="345.4" y2="330"/><line x1="383.9" y1="161.5" x2="383.9" y2="330"/><line x1="191.5" y1="305.8" x2="402.5" y2="305.8"/><line x1="191.5" y1="269.5" x2="402.5" y2="269.5"/><line x1="191.5" y1="233.1" x2="402.5" y2="233.1"/><line x1="191.5" y1="196.8" x2="402.5" y2="196.8"/></g>
<g fill="#fff"><rect x="195.5" y="168.5" width="27" height="21.5"/><rect x="363.5" y="173" width="27" height="34"/><rect x="336.5" y="296" width="40" height="10"/></g>
<g fill="none" stroke-width="1.8" stroke-linejoin="round" stroke-linecap="round">
<path stroke="#0000ff" d="M210.7,323.5 L211.1,323.5 L211.5,323.4 L211.9,323.4 L212.2,323.4 L212.6,323.4 L213.0,323.3 L213.4,323.3 L213.8,323.3 L214.2,323.2 L214.5,323.2 L214.9,323.2 L215.3,323.1 L215.7,323.1 L216.1,323.0 L216.5,323.0 L216.9,322.9 L217.2,322.9 L217.6,322.9 L218.0,322.8 L218.4,322.8 L218.8,322.7 L219.2,322.7 L219.6,322.6 L219.9,322.6 L220.3,322.5 L220.7,322.5 L221.1,322.4 L221.5,322.3 L221.9,322.3 L222.2,322.2 L222.6,322.2 L223.0,322.1 L223.4,322.1 L223.8,322.0 L224.2,321.9 L224.6,321.9 L224.9,321.8 L225.3,321.7 L225.7,321.6 L226.1,321.6 L226.5,321.5 L226.9,321.4 L227.2,321.3 L227.6,321.2 L228.0,321.1 L228.4,321.1 L228.8,321.0 L229.2,320.9 L229.6,320.8 L229.9,320.7 L230.3,320.6 L230.7,320.5 L231.1,320.4 L231.5,320.3 L231.9,320.2 L232.2,320.1 L232.6,320.0 L233.0,319.9 L233.4,319.8 L233.8,319.7 L234.2,319.6 L234.6,319.5 L234.9,319.4 L235.3,319.2 L235.7,319.1 L236.1,319.0 L236.5,318.8 L236.9,318.7 L237.3,318.5 L237.6,318.4 L238.0,318.2 L238.4,318.0 L238.8,317.9 L239.2,317.7 L239.6,317.4 L239.9,317.2 L240.3,317.0 L240.7,316.7 L241.1,316.4 L241.5,316.1 L241.9,315.8 L242.3,315.5 L242.6,315.2 L243.0,314.8 L243.4,314.5 L243.8,314.1 L244.2,313.7 L244.6,313.2 L244.9,312.7 L245.3,312.1 L245.7,311.5 L246.1,310.8 L246.5,310.2 L246.9,309.5 L247.3,308.8 L247.6,308.1 L248.0,307.5 L248.4,306.8 L248.8,306.2 L249.2,305.5 L249.6,304.7 L249.9,304.0 L250.3,303.3 L250.7,302.6 L251.1,301.9 L251.5,301.3 L251.9,300.6 L252.3,300.1 L252.6,299.5 L253.0,299.0 L253.4,298.4 L253.8,297.9 L254.2,297.4 L254.6,297.0 L255.0,296.6 L255.3,296.4 L255.7,296.3 L256.1,296.2 L256.5,296.1 L256.9,296.0 L257.3,296.0 L257.6,296.0 L258.0,295.9 L258.4,296.0 L258.8,296.1 L259.2,296.2 L259.6,296.4 L260.0,296.5 L260.3,296.6 L260.7,296.7 L261.1,296.8 L261.5,296.7 L261.9,296.7 L262.3,296.5 L262.6,296.4 L263.0,296.2 L263.4,296.0 L263.8,295.7 L264.2,295.4 L264.6,295.1 L265.0,294.8 L265.3,294.2 L265.7,293.6 L266.1,292.8 L266.5,292.0 L266.9,291.1 L267.3,290.2 L267.7,289.1 L268.0,287.9 L268.4,286.5 L268.8,285.0 L269.2,283.4 L269.6,281.9 L270.0,280.3 L270.3,278.6 L270.7,276.9 L271.1,275.3 L271.5,273.7 L271.9,272.2 L272.3,270.6 L272.7,269.1 L273.0,267.6 L273.4,266.0 L273.8,264.5 L274.2,262.8 L274.6,261.0 L275.0,259.3 L275.3,257.5 L275.7,256.0 L276.1,254.6 L276.5,253.3 L276.9,252.2 L277.3,251.1 L277.7,250.0 L278.0,249.1 L278.4,248.3 L278.8,247.6 L279.2,247.0 L279.6,246.4 L280.0,245.9 L280.3,245.4 L280.7,245.0 L281.1,244.7 L281.5,244.4 L281.9,244.2 L282.3,244.0 L282.7,243.8 L283.0,243.7 L283.4,243.5 L283.8,243.3 L284.2,243.1 L284.6,242.9 L285.0,242.6 L285.4,242.3 L285.7,241.9 L286.1,241.5 L286.5,241.1 L286.9,240.7 L287.3,240.2 L287.7,239.7 L288.0,239.1 L288.4,238.5 L288.8,237.8 L289.2,237.0 L289.6,236.2 L290.0,235.3 L290.4,234.4 L290.7,233.6 L291.1,232.7 L291.5,231.8 L291.9,230.8 L292.3,229.8 L292.7,228.8 L293.0,227.8 L293.4,226.8 L293.8,225.8 L294.2,224.8 L294.6,223.9 L295.0,223.1 L295.4,222.2 L295.7,221.4 L296.1,220.6 L296.5,219.7 L296.9,218.9 L297.3,218.0 L297.7,217.0 L298.0,216.1 L298.4,215.2 L298.8,214.3 L299.2,213.3 L299.6,212.1 L300.0,210.8 L300.4,209.1 L300.7,206.9 L301.1,204.5 L301.5,202.1 L301.9,199.9 L302.3,197.6 L302.7,195.3 L303.1,193.0 L303.4,190.7 L303.8,188.3 L304.2,185.8 L304.6,183.4 L305.0,181.4 L305.4,179.6 L305.7,177.9 L306.1,176.5 L306.5,175.2 L306.9,174.2 L307.3,173.2 L307.7,172.3 L308.1,171.5 L308.4,170.9 L308.8,170.7 L309.2,170.9 L309.6,171.4 L310.0,172.2 L310.4,173.1 L310.7,174.0 L311.1,175.2 L311.5,176.7 L311.9,178.6 L312.3,180.5 L312.7,182.7 L313.1,185.3 L313.4,188.1 L313.8,190.9 L314.2,193.6 L314.6,196.3 L315.0,198.9 L315.4,201.6 L315.8,204.3 L316.1,207.0 L316.5,209.7 L316.9,212.4 L317.3,215.3 L317.7,218.4 L318.1,221.7 L318.4,225.0 L318.8,228.2 L319.2,231.1 L319.6,234.0 L320.0,236.9 L320.4,239.8 L320.8,242.9 L321.1,246.1 L321.5,249.3 L321.9,252.5 L322.3,255.4 L322.7,258.2 L323.1,260.8 L323.4,263.4 L323.8,266.1 L324.2,269.1 L324.6,272.2 L325.0,275.3 L325.4,278.2 L325.8,281.1 L326.1,283.9 L326.5,286.3 L326.9,288.3 L327.3,290.0 L327.7,291.6 L328.1,293.1 L328.4,294.5 L328.8,296.1 L329.2,297.6 L329.6,299.1 L330.0,300.6 L330.4,302.0 L330.8,303.4 L331.1,304.6 L331.5,305.9 L331.9,307.1 L332.3,308.3 L332.7,309.4 L333.1,310.4 L333.5,311.2 L333.8,312.0 L334.2,312.8 L334.6,313.6 L335.0,314.3 L335.4,314.9 L335.8,315.5 L336.1,316.1 L336.5,316.6 L336.9,317.1 L337.3,317.5 L337.7,318.0 L338.1,318.4 L338.5,318.8 L338.8,319.2 L339.2,319.6 L339.6,319.9 L340.0,320.2 L340.4,320.5 L340.8,320.7 L341.1,321.0 L341.5,321.2 L341.9,321.4 L342.3,321.6 L342.7,321.8 L343.1,322.0 L343.5,322.2 L343.8,322.3 L344.2,322.5 L344.6,322.6 L345.0,322.7 L345.4,322.8 L345.8,322.9 L346.1,322.9 L346.5,323.0 L346.9,323.1 L347.3,323.1 L347.7,323.2 L348.1,323.3 L348.5,323.3 L348.8,323.4 L349.2,323.4 L349.6,323.5 L350.0,323.5 L350.4,323.5 L350.8,323.6 L351.2,323.6 L351.5,323.6 L351.9,323.6 L352.3,323.7 L352.7,323.7 L353.1,323.7 L353.5,323.7 L353.8,323.7 L354.2,323.7 L354.6,323.7 L355.0,323.7 L355.4,323.7 L355.8,323.7 L356.2,323.7 L356.5,323.7 L356.9,323.7 L357.3,323.7 L357.7,323.7 L358.1,323.7 L358.5,323.7 L358.8,323.7 L359.2,323.7 L359.6,323.7 L360.0,323.7 L360.4,323.7 L360.8,323.7 L361.2,323.7 L361.5,323.7 L361.9,323.7 L362.3,323.7 L362.7,323.7 L363.1,323.7 L363.5,323.7 L363.9,323.7 L364.2,323.7 L364.6,323.7 L365.0,323.7 L365.4,323.7 L365.8,323.7 L366.2,323.7 L366.5,323.7 L366.9,323.7 L367.3,323.7 L367.7,323.7 L368.1,323.7 L368.5,323.7 L368.9,323.7 L369.2,323.7 L369.6,323.7 L370.0,323.7 L370.4,323.7 L370.8,323.7 L371.2,323.7 L371.5,323.7 L371.9,323.7 L372.3,323.7 L372.7,323.7 L373.1,323.7 L373.5,323.7 L373.9,323.7 L374.2,323.7 L374.6,323.7 L375.0,323.7 L375.4,323.7 L375.8,323.7 L376.2,323.7 L376.5,323.7 L376.9,323.7 L377.3,323.7 L377.7,323.7 L378.1,323.7 L378.5,323.7 L378.9,323.7 L379.2,323.7 L379.6,323.7 L380.0,323.7 L380.4,323.7 L380.8,323.7 L381.2,323.7 L381.6,323.7 L381.9,323.7 L382.3,323.7 L382.7,323.7 L383.1,323.7 L383.5,323.7 L383.9,323.7"/>
<path stroke="#ff0000" d="M210.7,323.2 L211.1,323.2 L211.5,323.2 L211.9,323.2 L212.2,323.2 L212.6,323.2 L213.0,323.2 L213.4,323.2 L213.8,323.2 L214.2,323.2 L214.5,323.1 L214.9,323.1 L215.3,323.1 L215.7,323.1 L216.1,323.1 L216.5,323.1 L216.9,323.1 L217.2,323.0 L217.6,323.0 L218.0,323.0 L218.4,323.0 L218.8,323.0 L219.2,323.0 L219.6,322.9 L219.9,322.9 L220.3,322.9 L220.7,322.9 L221.1,322.9 L221.5,322.8 L221.9,322.8 L222.2,322.8 L222.6,322.7 L223.0,322.7 L223.4,322.7 L223.8,322.6 L224.2,322.6 L224.6,322.5 L224.9,322.4 L225.3,322.4 L225.7,322.3 L226.1,322.2 L226.5,322.2 L226.9,322.1 L227.2,322.0 L227.6,322.0 L228.0,321.9 L228.4,321.8 L228.8,321.7 L229.2,321.7 L229.6,321.6 L229.9,321.5 L230.3,321.5 L230.7,321.4 L231.1,321.3 L231.5,321.2 L231.9,321.2 L232.2,321.1 L232.6,321.0 L233.0,320.9 L233.4,320.9 L233.8,320.8 L234.2,320.7 L234.6,320.6 L234.9,320.5 L235.3,320.5 L235.7,320.4 L236.1,320.3 L236.5,320.2 L236.9,320.1 L237.3,320.0 L237.6,319.9 L238.0,319.9 L238.4,319.8 L238.8,319.7 L239.2,319.6 L239.6,319.5 L239.9,319.5 L240.3,319.4 L240.7,319.3 L241.1,319.2 L241.5,319.1 L241.9,319.1 L242.3,319.0 L242.6,318.9 L243.0,318.8 L243.4,318.6 L243.8,318.5 L244.2,318.4 L244.6,318.2 L244.9,318.0 L245.3,317.8 L245.7,317.5 L246.1,317.2 L246.5,316.9 L246.9,316.5 L247.3,316.1 L247.6,315.7 L248.0,315.2 L248.4,314.7 L248.8,314.3 L249.2,313.8 L249.6,313.3 L249.9,312.8 L250.3,312.2 L250.7,311.5 L251.1,310.9 L251.5,310.2 L251.9,309.4 L252.3,308.7 L252.6,308.0 L253.0,307.2 L253.4,306.5 L253.8,305.8 L254.2,305.1 L254.6,304.3 L255.0,303.5 L255.3,302.8 L255.7,302.0 L256.1,301.3 L256.5,300.7 L256.9,300.3 L257.3,299.9 L257.6,299.6 L258.0,299.4 L258.4,299.1 L258.8,298.9 L259.2,298.7 L259.6,298.5 L260.0,298.4 L260.3,298.4 L260.7,298.4 L261.1,298.4 L261.5,298.4 L261.9,298.5 L262.3,298.5 L262.6,298.5 L263.0,298.5 L263.4,298.6 L263.8,298.6 L264.2,298.6 L264.6,298.5 L265.0,298.5 L265.3,298.5 L265.7,298.4 L266.1,298.4 L266.5,298.4 L266.9,298.3 L267.3,298.2 L267.7,298.1 L268.0,297.8 L268.4,297.5 L268.8,297.1 L269.2,296.6 L269.6,296.2 L270.0,295.7 L270.3,295.1 L270.7,294.6 L271.1,293.9 L271.5,293.1 L271.9,292.2 L272.3,291.2 L272.7,290.2 L273.0,289.1 L273.4,288.0 L273.8,286.9 L274.2,285.7 L274.6,284.4 L275.0,283.0 L275.3,281.5 L275.7,280.1 L276.1,278.6 L276.5,277.3 L276.9,275.9 L277.3,274.5 L277.7,273.1 L278.0,271.6 L278.4,269.9 L278.8,268.3 L279.2,266.9 L279.6,265.7 L280.0,264.5 L280.3,263.5 L280.7,262.5 L281.1,261.6 L281.5,260.9 L281.9,260.3 L282.3,259.8 L282.7,259.4 L283.0,259.0 L283.4,258.8 L283.8,258.7 L284.2,258.8 L284.6,259.0 L285.0,259.3 L285.4,259.7 L285.7,260.1 L286.1,260.4 L286.5,260.9 L286.9,261.4 L287.3,261.9 L287.7,262.4 L288.0,262.7 L288.4,262.8 L288.8,262.8 L289.2,262.6 L289.6,262.4 L290.0,262.1 L290.4,261.7 L290.7,261.4 L291.1,260.9 L291.5,260.2 L291.9,259.2 L292.3,258.1 L292.7,256.9 L293.0,255.7 L293.4,254.6 L293.8,253.5 L294.2,252.4 L294.6,251.2 L295.0,250.1 L295.4,248.9 L295.7,247.7 L296.1,246.5 L296.5,245.3 L296.9,244.0 L297.3,242.7 L297.7,241.3 L298.0,239.9 L298.4,238.5 L298.8,237.1 L299.2,235.7 L299.6,234.4 L300.0,233.1 L300.4,231.9 L300.7,230.6 L301.1,229.4 L301.5,228.1 L301.9,226.9 L302.3,225.8 L302.7,224.7 L303.1,223.7 L303.4,222.8 L303.8,222.0 L304.2,221.1 L304.6,220.3 L305.0,219.6 L305.4,219.0 L305.7,218.6 L306.1,218.3 L306.5,218.0 L306.9,217.7 L307.3,217.5 L307.7,217.4 L308.1,217.4 L308.4,217.7 L308.8,218.2 L309.2,218.8 L309.6,219.5 L310.0,220.1 L310.4,220.8 L310.7,221.7 L311.1,222.5 L311.5,223.2 L311.9,223.7 L312.3,224.2 L312.7,224.6 L313.1,225.0 L313.4,225.7 L313.8,226.6 L314.2,227.7 L314.6,229.2 L315.0,230.8 L315.4,232.6 L315.8,234.9 L316.1,237.5 L316.5,240.3 L316.9,243.3 L317.3,246.5 L317.7,249.8 L318.1,252.9 L318.4,255.6 L318.8,258.1 L319.2,260.7 L319.6,263.5 L320.0,266.9 L320.4,270.9 L320.8,274.9 L321.1,278.5 L321.5,281.9 L321.9,285.0 L322.3,287.7 L322.7,289.9 L323.1,292.0 L323.4,294.0 L323.8,295.9 L324.2,297.9 L324.6,299.9 L325.0,301.8 L325.4,303.5 L325.8,305.2 L326.1,306.9 L326.5,308.4 L326.9,309.9 L327.3,311.2 L327.7,312.3 L328.1,313.4 L328.4,314.3 L328.8,315.3 L329.2,316.1 L329.6,316.8 L330.0,317.5 L330.4,318.0 L330.8,318.6 L331.1,319.1 L331.5,319.6 L331.9,320.0 L332.3,320.4 L332.7,320.7 L333.1,321.1 L333.5,321.3 L333.8,321.6 L334.2,321.8 L334.6,322.1 L335.0,322.3 L335.4,322.5 L335.8,322.7 L336.1,322.9 L336.5,323.0 L336.9,323.1 L337.3,323.2 L337.7,323.2 L338.1,323.3 L338.5,323.3 L338.8,323.4 L339.2,323.4 L339.6,323.5 L340.0,323.5 L340.4,323.6 L340.8,323.6 L341.1,323.6 L341.5,323.6 L341.9,323.6 L342.3,323.7 L342.7,323.7 L343.1,323.7 L343.5,323.7 L343.8,323.7 L344.2,323.7 L344.6,323.7 L345.0,323.7 L345.4,323.7 L345.8,323.7 L346.1,323.7 L346.5,323.7 L346.9,323.7 L347.3,323.7 L347.7,323.7 L348.1,323.7 L348.5,323.7 L348.8,323.7 L349.2,323.7 L349.6,323.7 L350.0,323.7 L350.4,323.7 L350.8,323.7 L351.2,323.7 L351.5,323.7 L351.9,323.7 L352.3,323.7 L352.7,323.7 L353.1,323.7 L353.5,323.7 L353.8,323.7 L354.2,323.7 L354.6,323.7 L355.0,323.7 L355.4,323.7 L355.8,323.7 L356.2,323.7 L356.5,323.7 L356.9,323.7 L357.3,323.7 L357.7,323.7 L358.1,323.7 L358.5,323.7 L358.8,323.7 L359.2,323.7 L359.6,323.7 L360.0,323.7 L360.4,323.7 L360.8,323.7 L361.2,323.7 L361.5,323.7 L361.9,323.7 L362.3,323.7 L362.7,323.7 L363.1,323.7 L363.5,323.7 L363.9,323.7 L364.2,323.7 L364.6,323.7 L365.0,323.7 L365.4,323.7 L365.8,323.7 L366.2,323.7 L366.5,323.7 L366.9,323.7 L367.3,323.7 L367.7,323.7 L368.1,323.7 L368.5,323.7 L368.9,323.7 L369.2,323.7 L369.6,323.7 L370.0,323.7 L370.4,323.7 L370.8,323.7 L371.2,323.7 L371.5,323.7 L371.9,323.7 L372.3,323.7 L372.7,323.7 L373.1,323.7 L373.5,323.7 L373.9,323.7 L374.2,323.7 L374.6,323.7 L375.0,323.7 L375.4,323.7 L375.8,323.7 L376.2,323.7 L376.5,323.7 L376.9,323.7 L377.3,323.7 L377.7,323.7 L378.1,323.7 L378.5,323.7 L378.9,323.7 L379.2,323.7 L379.6,323.7 L380.0,323.7 L380.4,323.7 L380.8,323.7 L381.2,323.7 L381.6,323.7 L381.9,323.7 L382.3,323.7 L382.7,323.7 L383.1,323.7 L383.5,323.7 L383.9,323.7"/>
<path stroke="#000000" d="M210.7,323.7 L211.1,323.6 L211.5,323.6 L211.9,323.6 L212.2,323.6 L212.6,323.5 L213.0,323.5 L213.4,323.5 L213.8,323.4 L214.2,323.4 L214.5,323.3 L214.9,323.3 L215.3,323.2 L215.7,323.2 L216.1,323.1 L216.5,323.1 L216.9,323.0 L217.2,323.0 L217.6,322.9 L218.0,322.9 L218.4,322.8 L218.8,322.8 L219.2,322.7 L219.6,322.7 L219.9,322.6 L220.3,322.5 L220.7,322.5 L221.1,322.4 L221.5,322.3 L221.9,322.3 L222.2,322.2 L222.6,322.1 L223.0,322.1 L223.4,322.0 L223.8,321.9 L224.2,321.8 L224.6,321.8 L224.9,321.7 L225.3,321.6 L225.7,321.5 L226.1,321.4 L226.5,321.3 L226.9,321.2 L227.2,321.1 L227.6,321.0 L228.0,320.9 L228.4,320.8 L228.8,320.7 L229.2,320.6 L229.6,320.5 L229.9,320.4 L230.3,320.3 L230.7,320.1 L231.1,320.0 L231.5,319.9 L231.9,319.8 L232.2,319.6 L232.6,319.5 L233.0,319.4 L233.4,319.2 L233.8,319.1 L234.2,319.0 L234.6,318.8 L234.9,318.7 L235.3,318.5 L235.7,318.4 L236.1,318.2 L236.5,318.0 L236.9,317.9 L237.3,317.7 L237.6,317.6 L238.0,317.4 L238.4,317.2 L238.8,317.1 L239.2,316.9 L239.6,316.7 L239.9,316.6 L240.3,316.4 L240.7,316.2 L241.1,316.0 L241.5,315.9 L241.9,315.7 L242.3,315.5 L242.6,315.3 L243.0,315.1 L243.4,314.8 L243.8,314.6 L244.2,314.4 L244.6,314.1 L244.9,313.8 L245.3,313.5 L245.7,313.2 L246.1,312.9 L246.5,312.5 L246.9,312.1 L247.3,311.7 L247.6,311.3 L248.0,310.9 L248.4,310.4 L248.8,310.0 L249.2,309.6 L249.6,309.1 L249.9,308.7 L250.3,308.3 L250.7,307.8 L251.1,307.3 L251.5,306.8 L251.9,306.3 L252.3,305.8 L252.6,305.3 L253.0,304.8 L253.4,304.3 L253.8,303.7 L254.2,303.1 L254.6,302.6 L255.0,301.9 L255.3,301.3 L255.7,300.7 L256.1,300.0 L256.5,299.3 L256.9,298.6 L257.3,297.8 L257.6,297.1 L258.0,296.4 L258.4,295.6 L258.8,294.9 L259.2,294.2 L259.6,293.5 L260.0,292.8 L260.3,292.1 L260.7,291.3 L261.1,290.6 L261.5,289.9 L261.9,289.2 L262.3,288.5 L262.6,287.8 L263.0,287.1 L263.4,286.4 L263.8,285.7 L264.2,285.0 L264.6,284.4 L265.0,283.7 L265.3,283.0 L265.7,282.4 L266.1,281.7 L266.5,281.0 L266.9,280.4 L267.3,279.7 L267.7,279.2 L268.0,278.6 L268.4,278.2 L268.8,277.8 L269.2,277.4 L269.6,277.1 L270.0,276.8 L270.3,276.5 L270.7,276.2 L271.1,276.0 L271.5,275.8 L271.9,275.7 L272.3,275.6 L272.7,275.6 L273.0,275.5 L273.4,275.5 L273.8,275.4 L274.2,275.4 L274.6,275.4 L275.0,275.3 L275.3,275.3 L275.7,275.3 L276.1,275.3 L276.5,275.3 L276.9,275.4 L277.3,275.4 L277.7,275.5 L278.0,275.6 L278.4,275.7 L278.8,275.8 L279.2,275.9 L279.6,276.0 L280.0,276.0 L280.3,276.0 L280.7,276.0 L281.1,275.9 L281.5,275.7 L281.9,275.5 L282.3,275.3 L282.7,275.0 L283.0,274.7 L283.4,274.4 L283.8,274.0 L284.2,273.7 L284.6,273.4 L285.0,273.0 L285.4,272.6 L285.7,272.2 L286.1,271.7 L286.5,271.2 L286.9,270.7 L287.3,270.1 L287.7,269.4 L288.0,268.6 L288.4,267.7 L288.8,266.7 L289.2,265.6 L289.6,264.4 L290.0,263.3 L290.4,262.1 L290.7,260.9 L291.1,259.6 L291.5,258.3 L291.9,257.0 L292.3,255.6 L292.7,254.3 L293.0,253.0 L293.4,251.6 L293.8,250.1 L294.2,248.7 L294.6,247.3 L295.0,246.0 L295.4,244.7 L295.7,243.5 L296.1,242.3 L296.5,241.2 L296.9,240.1 L297.3,239.1 L297.7,238.0 L298.0,237.1 L298.4,236.2 L298.8,235.4 L299.2,234.8 L299.6,234.1 L300.0,233.5 L300.4,232.9 L300.7,232.4 L301.1,232.1 L301.5,231.8 L301.9,231.7 L302.3,231.6 L302.7,231.5 L303.1,231.5 L303.4,231.5 L303.8,231.5 L304.2,231.6 L304.6,231.9 L305.0,232.3 L305.4,232.7 L305.7,233.1 L306.1,233.7 L306.5,234.4 L306.9,235.3 L307.3,236.3 L307.7,237.4 L308.1,238.6 L308.4,239.9 L308.8,241.5 L309.2,243.3 L309.6,245.0 L310.0,246.8 L310.4,248.6 L310.7,250.5 L311.1,252.5 L311.5,254.6 L311.9,256.8 L312.3,259.1 L312.7,261.5 L313.1,264.0 L313.4,266.4 L313.8,269.0 L314.2,271.8 L314.6,275.1 L315.0,278.1 L315.4,280.4 L315.8,282.4 L316.1,284.2 L316.5,286.0 L316.9,287.9 L317.3,289.8 L317.7,291.7 L318.1,293.7 L318.4,295.5 L318.8,297.3 L319.2,299.2 L319.6,300.9 L320.0,302.6 L320.4,304.1 L320.8,305.6 L321.1,307.0 L321.5,308.3 L321.9,309.6 L322.3,310.8 L322.7,312.0 L323.1,313.1 L323.4,314.1 L323.8,315.1 L324.2,315.9 L324.6,316.7 L325.0,317.4 L325.4,318.1 L325.8,318.7 L326.1,319.3 L326.5,319.8 L326.9,320.2 L327.3,320.5 L327.7,320.9 L328.1,321.2 L328.4,321.5 L328.8,321.8 L329.2,322.0 L329.6,322.2 L330.0,322.4 L330.4,322.5 L330.8,322.6 L331.1,322.8 L331.5,322.9 L331.9,323.0 L332.3,323.1 L332.7,323.2 L333.1,323.2 L333.5,323.3 L333.8,323.4 L334.2,323.4 L334.6,323.5 L335.0,323.5 L335.4,323.6 L335.8,323.6 L336.1,323.6 L336.5,323.7 L336.9,323.7 L337.3,323.7 L337.7,323.8 L338.1,323.8 L338.5,323.8 L338.8,323.8 L339.2,323.9 L339.6,323.9 L340.0,323.9 L340.4,323.9 L340.8,324.0 L341.1,324.0 L341.5,324.0 L341.9,324.0 L342.3,324.0 L342.7,324.0 L343.1,324.0 L343.5,324.0 L343.8,324.0 L344.2,324.0 L344.6,324.0 L345.0,324.0 L345.4,324.0 L345.8,324.0 L346.1,324.0 L346.5,324.0 L346.9,324.0 L347.3,324.0 L347.7,324.0 L348.1,324.0 L348.5,324.0 L348.8,324.0 L349.2,324.0 L349.6,324.0 L350.0,324.0 L350.4,324.0 L350.8,324.0 L351.2,324.0 L351.5,324.0 L351.9,324.0 L352.3,324.0 L352.7,324.0 L353.1,324.0 L353.5,324.0 L353.8,324.0 L354.2,324.0 L354.6,324.0 L355.0,324.0 L355.4,324.0 L355.8,324.0 L356.2,324.0 L356.5,324.0 L356.9,324.0 L357.3,324.0 L357.7,324.0 L358.1,324.0 L358.5,324.0 L358.8,324.0 L359.2,324.0 L359.6,324.0 L360.0,324.0 L360.4,324.0 L360.8,324.0 L361.2,324.0 L361.5,324.0 L361.9,324.0 L362.3,324.0 L362.7,324.0 L363.1,324.0 L363.5,324.0 L363.9,324.0 L364.2,324.0 L364.6,324.0 L365.0,324.0 L365.4,324.0 L365.8,324.0 L366.2,324.0 L366.5,324.0 L366.9,324.0 L367.3,324.0 L367.7,324.0 L368.1,324.0 L368.5,324.0 L368.9,324.0 L369.2,324.0 L369.6,324.0 L370.0,324.0 L370.4,324.0 L370.8,324.0 L371.2,324.0 L371.5,324.0 L371.9,324.0 L372.3,324.0 L372.7,324.0 L373.1,324.0 L373.5,324.0 L373.9,324.0 L374.2,324.0 L374.6,324.0 L375.0,324.0 L375.4,324.0 L375.8,324.0 L376.2,324.0 L376.5,324.0 L376.9,324.0 L377.3,324.0 L377.7,324.0 L378.1,324.0 L378.5,324.0 L378.9,324.0 L379.2,324.0 L379.6,324.0 L380.0,324.0 L380.4,324.0 L380.8,324.0 L381.2,324.0 L381.6,324.0 L381.9,324.0 L382.3,324.0 L382.7,324.0 L383.1,324.0 L383.5,324.0 L383.9,324.0"/>
</g>
<g stroke="#000" stroke-width="1.2"><line x1="210.7" y1="326.8" x2="210.7" y2="330"/><line x1="229.9" y1="327.8" x2="229.9" y2="330"/><line x1="249.2" y1="326.8" x2="249.2" y2="330"/><line x1="268.4" y1="327.8" x2="268.4" y2="330"/><line x1="287.7" y1="326.8" x2="287.7" y2="330"/><line x1="306.9" y1="327.8" x2="306.9" y2="330"/><line x1="326.1" y1="326.8" x2="326.1" y2="330"/><line x1="345.4" y1="327.8" x2="345.4" y2="330"/><line x1="364.6" y1="326.8" x2="364.6" y2="330"/><line x1="383.9" y1="327.8" x2="383.9" y2="330"/><line x1="191.5" y1="324.0" x2="194.7" y2="324.0"/><line x1="191.5" y1="305.8" x2="193.7" y2="305.8"/><line x1="191.5" y1="287.6" x2="194.7" y2="287.6"/><line x1="191.5" y1="269.5" x2="193.7" y2="269.5"/><line x1="191.5" y1="251.3" x2="194.7" y2="251.3"/><line x1="191.5" y1="233.1" x2="193.7" y2="233.1"/><line x1="191.5" y1="214.9" x2="194.7" y2="214.9"/><line x1="191.5" y1="196.8" x2="193.7" y2="196.8"/><line x1="191.5" y1="178.6" x2="194.7" y2="178.6"/></g>
<rect x="191" y="160.9" width="212.2" height="170" fill="none" stroke="#1a1a1a" stroke-width="1.7"/>
<g stroke-width="1.8" fill="none"><line x1="339" y1="178" x2="362.3" y2="178" stroke="#0000ff"/><line x1="339" y1="190.1" x2="362.3" y2="190.1" stroke="#ff0000"/><line x1="339" y1="202.2" x2="362.3" y2="202.2" stroke="#000"/></g>
<g class="serif" font-size="10">
<text x="364.2" y="181.8" font-size="9.7">450°C</text><text x="364.2" y="193.9" font-size="9.7">480°C</text><text x="364.2" y="206" font-size="9.7">420°C</text>
<text x="337.3" y="304.4" font-size="9.7">T = 300K</text>
</g>
<g class="serif" font-size="10.4"><text x="210.3" y="343.5" text-anchor="middle">1000</text><text x="248.8" y="343.5" text-anchor="middle">1100</text><text x="287.3" y="343.5" text-anchor="middle">1200</text><text x="325.7" y="343.5" text-anchor="middle">1300</text><text x="364.2" y="343.5" text-anchor="middle">1400</text><text x="402.7" y="343.5" text-anchor="middle">1500</text><text x="187.4" y="327.5" text-anchor="end">0</text><text x="187.4" y="291.1" text-anchor="end">5000</text><text x="187.4" y="254.8" text-anchor="end">10,000</text><text x="187.4" y="218.4" text-anchor="end">15,000</text><text x="187.4" y="182.1" text-anchor="end">20,000</text></g>
<text class="serif" font-size="10.6" x="309" y="355.6" text-anchor="middle">Wavelength (nm)</text>
<text class="serif" font-size="10.7" transform="translate(153.2 246) rotate(-90)" text-anchor="middle" xml:space="preserve">PL  Intensity</text>
<text class="serif" font-size="20.5" x="196.6" y="184.6">(d)</text>
</svg>
</body></html>
